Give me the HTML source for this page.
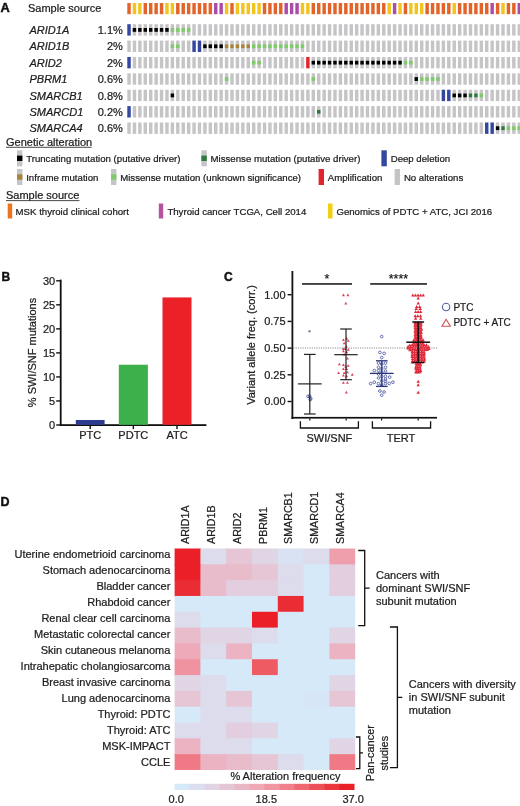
<!DOCTYPE html><html><head><meta charset="utf-8"><title>Figure</title><style>html,body{margin:0;padding:0;background:#fff;width:520px;height:806px;overflow:hidden}</style></head><body><svg width="520" height="806" viewBox="0 0 520 806" style="display:block;font-family:'Liberation Sans',Arial,sans-serif">
<style>text{stroke:#1a1a1a;stroke-width:0.22px}</style>
<rect width="520" height="806" fill="#fff"/>
<text x="0.4" y="11.6" font-size="12.8" font-weight="bold" fill="#111" style="stroke:#111;stroke-width:0.45px">A</text>
<text x="28" y="12.4" font-size="11" fill="#222">Sample source</text>
<rect x="127.30" y="3" width="3.45" height="11.2" fill="#e2642a"/>
<rect x="132.72" y="3" width="3.45" height="11.2" fill="#f2c41f"/>
<rect x="138.14" y="3" width="3.45" height="11.2" fill="#f2c41f"/>
<rect x="143.56" y="3" width="3.45" height="11.2" fill="#e2642a"/>
<rect x="148.98" y="3" width="3.45" height="11.2" fill="#e2642a"/>
<rect x="154.40" y="3" width="3.45" height="11.2" fill="#e2642a"/>
<rect x="159.82" y="3" width="3.45" height="11.2" fill="#e2642a"/>
<rect x="165.24" y="3" width="3.45" height="11.2" fill="#f2c41f"/>
<rect x="170.66" y="3" width="3.45" height="11.2" fill="#f2c41f"/>
<rect x="176.08" y="3" width="3.45" height="11.2" fill="#e2642a"/>
<rect x="181.50" y="3" width="3.45" height="11.2" fill="#e2642a"/>
<rect x="186.92" y="3" width="3.45" height="11.2" fill="#e2642a"/>
<rect x="192.34" y="3" width="3.45" height="11.2" fill="#e2642a"/>
<rect x="197.76" y="3" width="3.45" height="11.2" fill="#e2642a"/>
<rect x="203.18" y="3" width="3.45" height="11.2" fill="#e2642a"/>
<rect x="208.60" y="3" width="3.45" height="11.2" fill="#e2642a"/>
<rect x="214.02" y="3" width="3.45" height="11.2" fill="#aa4caa"/>
<rect x="219.44" y="3" width="3.45" height="11.2" fill="#aa4caa"/>
<rect x="224.86" y="3" width="3.45" height="11.2" fill="#f2c41f"/>
<rect x="230.28" y="3" width="3.45" height="11.2" fill="#e2642a"/>
<rect x="235.70" y="3" width="3.45" height="11.2" fill="#f2c41f"/>
<rect x="241.12" y="3" width="3.45" height="11.2" fill="#f2c41f"/>
<rect x="246.54" y="3" width="3.45" height="11.2" fill="#f2c41f"/>
<rect x="251.96" y="3" width="3.45" height="11.2" fill="#f2c41f"/>
<rect x="257.38" y="3" width="3.45" height="11.2" fill="#f2c41f"/>
<rect x="262.80" y="3" width="3.45" height="11.2" fill="#e2642a"/>
<rect x="268.22" y="3" width="3.45" height="11.2" fill="#e2642a"/>
<rect x="273.64" y="3" width="3.45" height="11.2" fill="#e2642a"/>
<rect x="279.06" y="3" width="3.45" height="11.2" fill="#e2642a"/>
<rect x="284.48" y="3" width="3.45" height="11.2" fill="#aa4caa"/>
<rect x="289.90" y="3" width="3.45" height="11.2" fill="#aa4caa"/>
<rect x="295.32" y="3" width="3.45" height="11.2" fill="#aa4caa"/>
<rect x="300.74" y="3" width="3.45" height="11.2" fill="#f2c41f"/>
<rect x="306.16" y="3" width="3.45" height="11.2" fill="#f2c41f"/>
<rect x="311.58" y="3" width="3.45" height="11.2" fill="#e2642a"/>
<rect x="317.00" y="3" width="3.45" height="11.2" fill="#e2642a"/>
<rect x="322.42" y="3" width="3.45" height="11.2" fill="#e2642a"/>
<rect x="327.84" y="3" width="3.45" height="11.2" fill="#e2642a"/>
<rect x="333.26" y="3" width="3.45" height="11.2" fill="#e2642a"/>
<rect x="338.68" y="3" width="3.45" height="11.2" fill="#e2642a"/>
<rect x="344.10" y="3" width="3.45" height="11.2" fill="#e2642a"/>
<rect x="349.52" y="3" width="3.45" height="11.2" fill="#e2642a"/>
<rect x="354.94" y="3" width="3.45" height="11.2" fill="#e2642a"/>
<rect x="360.36" y="3" width="3.45" height="11.2" fill="#e2642a"/>
<rect x="365.78" y="3" width="3.45" height="11.2" fill="#e2642a"/>
<rect x="371.20" y="3" width="3.45" height="11.2" fill="#e2642a"/>
<rect x="376.62" y="3" width="3.45" height="11.2" fill="#e2642a"/>
<rect x="382.04" y="3" width="3.45" height="11.2" fill="#e2642a"/>
<rect x="387.46" y="3" width="3.45" height="11.2" fill="#f2c41f"/>
<rect x="392.88" y="3" width="3.45" height="11.2" fill="#aa4caa"/>
<rect x="398.30" y="3" width="3.45" height="11.2" fill="#f2c41f"/>
<rect x="403.72" y="3" width="3.45" height="11.2" fill="#e2642a"/>
<rect x="409.14" y="3" width="3.45" height="11.2" fill="#f2c41f"/>
<rect x="414.56" y="3" width="3.45" height="11.2" fill="#f2c41f"/>
<rect x="419.98" y="3" width="3.45" height="11.2" fill="#f2c41f"/>
<rect x="425.40" y="3" width="3.45" height="11.2" fill="#e2642a"/>
<rect x="430.82" y="3" width="3.45" height="11.2" fill="#e2642a"/>
<rect x="436.24" y="3" width="3.45" height="11.2" fill="#e2642a"/>
<rect x="441.66" y="3" width="3.45" height="11.2" fill="#e2642a"/>
<rect x="447.08" y="3" width="3.45" height="11.2" fill="#e2642a"/>
<rect x="452.50" y="3" width="3.45" height="11.2" fill="#f2c41f"/>
<rect x="457.92" y="3" width="3.45" height="11.2" fill="#e2642a"/>
<rect x="463.34" y="3" width="3.45" height="11.2" fill="#e2642a"/>
<rect x="468.76" y="3" width="3.45" height="11.2" fill="#e2642a"/>
<rect x="474.18" y="3" width="3.45" height="11.2" fill="#e2642a"/>
<rect x="479.60" y="3" width="3.45" height="11.2" fill="#e2642a"/>
<rect x="485.02" y="3" width="3.45" height="11.2" fill="#e2642a"/>
<rect x="490.44" y="3" width="3.45" height="11.2" fill="#aa4caa"/>
<rect x="495.86" y="3" width="3.45" height="11.2" fill="#e2642a"/>
<rect x="501.28" y="3" width="3.45" height="11.2" fill="#f2c41f"/>
<rect x="506.70" y="3" width="3.45" height="11.2" fill="#e2642a"/>
<rect x="512.12" y="3" width="3.45" height="11.2" fill="#e2642a"/>
<rect x="517.54" y="3" width="3.45" height="11.2" fill="#aa4caa"/>
<text x="29.5" y="34.10" font-size="11" font-style="italic" fill="#222">ARID1A</text>
<text x="122.8" y="34.10" font-size="11" text-anchor="end" fill="#222">1.1%</text>
<rect x="127.30" y="24.20" width="3.45" height="11.40" fill="#3447a0"/>
<rect x="132.72" y="24.20" width="3.45" height="11.40" fill="#c5c5c7"/>
<rect x="132.72" y="28.00" width="3.45" height="3.80" fill="#000"/>
<rect x="138.14" y="24.20" width="3.45" height="11.40" fill="#c5c5c7"/>
<rect x="138.14" y="28.00" width="3.45" height="3.80" fill="#000"/>
<rect x="143.56" y="24.20" width="3.45" height="11.40" fill="#c5c5c7"/>
<rect x="143.56" y="28.00" width="3.45" height="3.80" fill="#000"/>
<rect x="148.98" y="24.20" width="3.45" height="11.40" fill="#c5c5c7"/>
<rect x="148.98" y="28.00" width="3.45" height="3.80" fill="#000"/>
<rect x="154.40" y="24.20" width="3.45" height="11.40" fill="#c5c5c7"/>
<rect x="154.40" y="28.00" width="3.45" height="3.80" fill="#000"/>
<rect x="159.82" y="24.20" width="3.45" height="11.40" fill="#c5c5c7"/>
<rect x="159.82" y="28.00" width="3.45" height="3.80" fill="#000"/>
<rect x="165.24" y="24.20" width="3.45" height="11.40" fill="#c5c5c7"/>
<rect x="165.24" y="28.00" width="3.45" height="3.80" fill="#000"/>
<rect x="170.66" y="24.20" width="3.45" height="11.40" fill="#c5c5c7"/>
<rect x="170.66" y="28.00" width="3.45" height="3.80" fill="#7fca6a"/>
<rect x="176.08" y="24.20" width="3.45" height="11.40" fill="#c5c5c7"/>
<rect x="176.08" y="28.00" width="3.45" height="3.80" fill="#7fca6a"/>
<rect x="181.50" y="24.20" width="3.45" height="11.40" fill="#c5c5c7"/>
<rect x="181.50" y="28.00" width="3.45" height="3.80" fill="#7fca6a"/>
<rect x="186.92" y="24.20" width="3.45" height="11.40" fill="#c5c5c7"/>
<rect x="186.92" y="28.00" width="3.45" height="3.80" fill="#7fca6a"/>
<rect x="192.34" y="24.20" width="3.45" height="11.40" fill="#c5c5c7"/>
<rect x="197.76" y="24.20" width="3.45" height="11.40" fill="#c5c5c7"/>
<rect x="203.18" y="24.20" width="3.45" height="11.40" fill="#c5c5c7"/>
<rect x="208.60" y="24.20" width="3.45" height="11.40" fill="#c5c5c7"/>
<rect x="214.02" y="24.20" width="3.45" height="11.40" fill="#c5c5c7"/>
<rect x="219.44" y="24.20" width="3.45" height="11.40" fill="#c5c5c7"/>
<rect x="224.86" y="24.20" width="3.45" height="11.40" fill="#c5c5c7"/>
<rect x="230.28" y="24.20" width="3.45" height="11.40" fill="#c5c5c7"/>
<rect x="235.70" y="24.20" width="3.45" height="11.40" fill="#c5c5c7"/>
<rect x="241.12" y="24.20" width="3.45" height="11.40" fill="#c5c5c7"/>
<rect x="246.54" y="24.20" width="3.45" height="11.40" fill="#c5c5c7"/>
<rect x="251.96" y="24.20" width="3.45" height="11.40" fill="#c5c5c7"/>
<rect x="257.38" y="24.20" width="3.45" height="11.40" fill="#c5c5c7"/>
<rect x="262.80" y="24.20" width="3.45" height="11.40" fill="#c5c5c7"/>
<rect x="268.22" y="24.20" width="3.45" height="11.40" fill="#c5c5c7"/>
<rect x="273.64" y="24.20" width="3.45" height="11.40" fill="#c5c5c7"/>
<rect x="279.06" y="24.20" width="3.45" height="11.40" fill="#c5c5c7"/>
<rect x="284.48" y="24.20" width="3.45" height="11.40" fill="#c5c5c7"/>
<rect x="289.90" y="24.20" width="3.45" height="11.40" fill="#c5c5c7"/>
<rect x="295.32" y="24.20" width="3.45" height="11.40" fill="#c5c5c7"/>
<rect x="300.74" y="24.20" width="3.45" height="11.40" fill="#c5c5c7"/>
<rect x="306.16" y="24.20" width="3.45" height="11.40" fill="#c5c5c7"/>
<rect x="311.58" y="24.20" width="3.45" height="11.40" fill="#c5c5c7"/>
<rect x="317.00" y="24.20" width="3.45" height="11.40" fill="#c5c5c7"/>
<rect x="322.42" y="24.20" width="3.45" height="11.40" fill="#c5c5c7"/>
<rect x="327.84" y="24.20" width="3.45" height="11.40" fill="#c5c5c7"/>
<rect x="333.26" y="24.20" width="3.45" height="11.40" fill="#c5c5c7"/>
<rect x="338.68" y="24.20" width="3.45" height="11.40" fill="#c5c5c7"/>
<rect x="344.10" y="24.20" width="3.45" height="11.40" fill="#c5c5c7"/>
<rect x="349.52" y="24.20" width="3.45" height="11.40" fill="#c5c5c7"/>
<rect x="354.94" y="24.20" width="3.45" height="11.40" fill="#c5c5c7"/>
<rect x="360.36" y="24.20" width="3.45" height="11.40" fill="#c5c5c7"/>
<rect x="365.78" y="24.20" width="3.45" height="11.40" fill="#c5c5c7"/>
<rect x="371.20" y="24.20" width="3.45" height="11.40" fill="#c5c5c7"/>
<rect x="376.62" y="24.20" width="3.45" height="11.40" fill="#c5c5c7"/>
<rect x="382.04" y="24.20" width="3.45" height="11.40" fill="#c5c5c7"/>
<rect x="387.46" y="24.20" width="3.45" height="11.40" fill="#c5c5c7"/>
<rect x="392.88" y="24.20" width="3.45" height="11.40" fill="#c5c5c7"/>
<rect x="398.30" y="24.20" width="3.45" height="11.40" fill="#c5c5c7"/>
<rect x="403.72" y="24.20" width="3.45" height="11.40" fill="#c5c5c7"/>
<rect x="409.14" y="24.20" width="3.45" height="11.40" fill="#c5c5c7"/>
<rect x="414.56" y="24.20" width="3.45" height="11.40" fill="#c5c5c7"/>
<rect x="419.98" y="24.20" width="3.45" height="11.40" fill="#c5c5c7"/>
<rect x="425.40" y="24.20" width="3.45" height="11.40" fill="#c5c5c7"/>
<rect x="430.82" y="24.20" width="3.45" height="11.40" fill="#c5c5c7"/>
<rect x="436.24" y="24.20" width="3.45" height="11.40" fill="#c5c5c7"/>
<rect x="441.66" y="24.20" width="3.45" height="11.40" fill="#c5c5c7"/>
<rect x="447.08" y="24.20" width="3.45" height="11.40" fill="#c5c5c7"/>
<rect x="452.50" y="24.20" width="3.45" height="11.40" fill="#c5c5c7"/>
<rect x="457.92" y="24.20" width="3.45" height="11.40" fill="#c5c5c7"/>
<rect x="463.34" y="24.20" width="3.45" height="11.40" fill="#c5c5c7"/>
<rect x="468.76" y="24.20" width="3.45" height="11.40" fill="#c5c5c7"/>
<rect x="474.18" y="24.20" width="3.45" height="11.40" fill="#c5c5c7"/>
<rect x="479.60" y="24.20" width="3.45" height="11.40" fill="#c5c5c7"/>
<rect x="485.02" y="24.20" width="3.45" height="11.40" fill="#c5c5c7"/>
<rect x="490.44" y="24.20" width="3.45" height="11.40" fill="#c5c5c7"/>
<rect x="495.86" y="24.20" width="3.45" height="11.40" fill="#c5c5c7"/>
<rect x="501.28" y="24.20" width="3.45" height="11.40" fill="#c5c5c7"/>
<rect x="506.70" y="24.20" width="3.45" height="11.40" fill="#c5c5c7"/>
<rect x="512.12" y="24.20" width="3.45" height="11.40" fill="#c5c5c7"/>
<rect x="517.54" y="24.20" width="3.45" height="11.40" fill="#c5c5c7"/>
<text x="29.5" y="50.48" font-size="11" font-style="italic" fill="#222">ARID1B</text>
<text x="122.8" y="50.48" font-size="11" text-anchor="end" fill="#222">2%</text>
<rect x="127.30" y="40.58" width="3.45" height="11.40" fill="#c5c5c7"/>
<rect x="132.72" y="40.58" width="3.45" height="11.40" fill="#c5c5c7"/>
<rect x="138.14" y="40.58" width="3.45" height="11.40" fill="#c5c5c7"/>
<rect x="143.56" y="40.58" width="3.45" height="11.40" fill="#c5c5c7"/>
<rect x="148.98" y="40.58" width="3.45" height="11.40" fill="#c5c5c7"/>
<rect x="154.40" y="40.58" width="3.45" height="11.40" fill="#c5c5c7"/>
<rect x="159.82" y="40.58" width="3.45" height="11.40" fill="#c5c5c7"/>
<rect x="165.24" y="40.58" width="3.45" height="11.40" fill="#c5c5c7"/>
<rect x="170.66" y="40.58" width="3.45" height="11.40" fill="#c5c5c7"/>
<rect x="170.66" y="44.38" width="3.45" height="3.80" fill="#7fca6a"/>
<rect x="176.08" y="40.58" width="3.45" height="11.40" fill="#c5c5c7"/>
<rect x="176.08" y="44.38" width="3.45" height="3.80" fill="#7fca6a"/>
<rect x="181.50" y="40.58" width="3.45" height="11.40" fill="#c5c5c7"/>
<rect x="186.92" y="40.58" width="3.45" height="11.40" fill="#c5c5c7"/>
<rect x="192.34" y="40.58" width="3.45" height="11.40" fill="#3447a0"/>
<rect x="197.76" y="40.58" width="3.45" height="11.40" fill="#3447a0"/>
<rect x="203.18" y="40.58" width="3.45" height="11.40" fill="#c5c5c7"/>
<rect x="203.18" y="44.38" width="3.45" height="3.80" fill="#000"/>
<rect x="208.60" y="40.58" width="3.45" height="11.40" fill="#c5c5c7"/>
<rect x="208.60" y="44.38" width="3.45" height="3.80" fill="#000"/>
<rect x="214.02" y="40.58" width="3.45" height="11.40" fill="#c5c5c7"/>
<rect x="214.02" y="44.38" width="3.45" height="3.80" fill="#000"/>
<rect x="219.44" y="40.58" width="3.45" height="11.40" fill="#c5c5c7"/>
<rect x="219.44" y="44.38" width="3.45" height="3.80" fill="#000"/>
<rect x="224.86" y="40.58" width="3.45" height="11.40" fill="#c5c5c7"/>
<rect x="224.86" y="44.38" width="3.45" height="3.80" fill="#a8843c"/>
<rect x="230.28" y="40.58" width="3.45" height="11.40" fill="#c5c5c7"/>
<rect x="230.28" y="44.38" width="3.45" height="3.80" fill="#a8843c"/>
<rect x="235.70" y="40.58" width="3.45" height="11.40" fill="#c5c5c7"/>
<rect x="235.70" y="44.38" width="3.45" height="3.80" fill="#a8843c"/>
<rect x="241.12" y="40.58" width="3.45" height="11.40" fill="#c5c5c7"/>
<rect x="241.12" y="44.38" width="3.45" height="3.80" fill="#a8843c"/>
<rect x="246.54" y="40.58" width="3.45" height="11.40" fill="#c5c5c7"/>
<rect x="246.54" y="44.38" width="3.45" height="3.80" fill="#a8843c"/>
<rect x="251.96" y="40.58" width="3.45" height="11.40" fill="#c5c5c7"/>
<rect x="251.96" y="44.38" width="3.45" height="3.80" fill="#7fca6a"/>
<rect x="257.38" y="40.58" width="3.45" height="11.40" fill="#c5c5c7"/>
<rect x="257.38" y="44.38" width="3.45" height="3.80" fill="#7fca6a"/>
<rect x="262.80" y="40.58" width="3.45" height="11.40" fill="#c5c5c7"/>
<rect x="262.80" y="44.38" width="3.45" height="3.80" fill="#7fca6a"/>
<rect x="268.22" y="40.58" width="3.45" height="11.40" fill="#c5c5c7"/>
<rect x="268.22" y="44.38" width="3.45" height="3.80" fill="#7fca6a"/>
<rect x="273.64" y="40.58" width="3.45" height="11.40" fill="#c5c5c7"/>
<rect x="273.64" y="44.38" width="3.45" height="3.80" fill="#7fca6a"/>
<rect x="279.06" y="40.58" width="3.45" height="11.40" fill="#c5c5c7"/>
<rect x="279.06" y="44.38" width="3.45" height="3.80" fill="#7fca6a"/>
<rect x="284.48" y="40.58" width="3.45" height="11.40" fill="#c5c5c7"/>
<rect x="284.48" y="44.38" width="3.45" height="3.80" fill="#7fca6a"/>
<rect x="289.90" y="40.58" width="3.45" height="11.40" fill="#c5c5c7"/>
<rect x="289.90" y="44.38" width="3.45" height="3.80" fill="#7fca6a"/>
<rect x="295.32" y="40.58" width="3.45" height="11.40" fill="#c5c5c7"/>
<rect x="295.32" y="44.38" width="3.45" height="3.80" fill="#7fca6a"/>
<rect x="300.74" y="40.58" width="3.45" height="11.40" fill="#c5c5c7"/>
<rect x="300.74" y="44.38" width="3.45" height="3.80" fill="#7fca6a"/>
<rect x="306.16" y="40.58" width="3.45" height="11.40" fill="#c5c5c7"/>
<rect x="311.58" y="40.58" width="3.45" height="11.40" fill="#c5c5c7"/>
<rect x="317.00" y="40.58" width="3.45" height="11.40" fill="#c5c5c7"/>
<rect x="322.42" y="40.58" width="3.45" height="11.40" fill="#c5c5c7"/>
<rect x="327.84" y="40.58" width="3.45" height="11.40" fill="#c5c5c7"/>
<rect x="333.26" y="40.58" width="3.45" height="11.40" fill="#c5c5c7"/>
<rect x="338.68" y="40.58" width="3.45" height="11.40" fill="#c5c5c7"/>
<rect x="344.10" y="40.58" width="3.45" height="11.40" fill="#c5c5c7"/>
<rect x="349.52" y="40.58" width="3.45" height="11.40" fill="#c5c5c7"/>
<rect x="354.94" y="40.58" width="3.45" height="11.40" fill="#c5c5c7"/>
<rect x="360.36" y="40.58" width="3.45" height="11.40" fill="#c5c5c7"/>
<rect x="365.78" y="40.58" width="3.45" height="11.40" fill="#c5c5c7"/>
<rect x="371.20" y="40.58" width="3.45" height="11.40" fill="#c5c5c7"/>
<rect x="376.62" y="40.58" width="3.45" height="11.40" fill="#c5c5c7"/>
<rect x="382.04" y="40.58" width="3.45" height="11.40" fill="#c5c5c7"/>
<rect x="387.46" y="40.58" width="3.45" height="11.40" fill="#c5c5c7"/>
<rect x="392.88" y="40.58" width="3.45" height="11.40" fill="#c5c5c7"/>
<rect x="398.30" y="40.58" width="3.45" height="11.40" fill="#c5c5c7"/>
<rect x="403.72" y="40.58" width="3.45" height="11.40" fill="#c5c5c7"/>
<rect x="409.14" y="40.58" width="3.45" height="11.40" fill="#c5c5c7"/>
<rect x="414.56" y="40.58" width="3.45" height="11.40" fill="#c5c5c7"/>
<rect x="419.98" y="40.58" width="3.45" height="11.40" fill="#c5c5c7"/>
<rect x="425.40" y="40.58" width="3.45" height="11.40" fill="#c5c5c7"/>
<rect x="430.82" y="40.58" width="3.45" height="11.40" fill="#c5c5c7"/>
<rect x="436.24" y="40.58" width="3.45" height="11.40" fill="#c5c5c7"/>
<rect x="441.66" y="40.58" width="3.45" height="11.40" fill="#c5c5c7"/>
<rect x="447.08" y="40.58" width="3.45" height="11.40" fill="#c5c5c7"/>
<rect x="452.50" y="40.58" width="3.45" height="11.40" fill="#c5c5c7"/>
<rect x="457.92" y="40.58" width="3.45" height="11.40" fill="#c5c5c7"/>
<rect x="463.34" y="40.58" width="3.45" height="11.40" fill="#c5c5c7"/>
<rect x="468.76" y="40.58" width="3.45" height="11.40" fill="#c5c5c7"/>
<rect x="474.18" y="40.58" width="3.45" height="11.40" fill="#c5c5c7"/>
<rect x="479.60" y="40.58" width="3.45" height="11.40" fill="#c5c5c7"/>
<rect x="485.02" y="40.58" width="3.45" height="11.40" fill="#c5c5c7"/>
<rect x="490.44" y="40.58" width="3.45" height="11.40" fill="#c5c5c7"/>
<rect x="495.86" y="40.58" width="3.45" height="11.40" fill="#c5c5c7"/>
<rect x="501.28" y="40.58" width="3.45" height="11.40" fill="#c5c5c7"/>
<rect x="506.70" y="40.58" width="3.45" height="11.40" fill="#c5c5c7"/>
<rect x="512.12" y="40.58" width="3.45" height="11.40" fill="#c5c5c7"/>
<rect x="517.54" y="40.58" width="3.45" height="11.40" fill="#c5c5c7"/>
<text x="29.5" y="66.86" font-size="11" font-style="italic" fill="#222">ARID2</text>
<text x="122.8" y="66.86" font-size="11" text-anchor="end" fill="#222">2%</text>
<rect x="127.30" y="56.96" width="3.45" height="11.40" fill="#3447a0"/>
<rect x="132.72" y="56.96" width="3.45" height="11.40" fill="#c5c5c7"/>
<rect x="138.14" y="56.96" width="3.45" height="11.40" fill="#c5c5c7"/>
<rect x="143.56" y="56.96" width="3.45" height="11.40" fill="#c5c5c7"/>
<rect x="148.98" y="56.96" width="3.45" height="11.40" fill="#c5c5c7"/>
<rect x="154.40" y="56.96" width="3.45" height="11.40" fill="#c5c5c7"/>
<rect x="159.82" y="56.96" width="3.45" height="11.40" fill="#c5c5c7"/>
<rect x="165.24" y="56.96" width="3.45" height="11.40" fill="#c5c5c7"/>
<rect x="170.66" y="56.96" width="3.45" height="11.40" fill="#c5c5c7"/>
<rect x="176.08" y="56.96" width="3.45" height="11.40" fill="#c5c5c7"/>
<rect x="181.50" y="56.96" width="3.45" height="11.40" fill="#c5c5c7"/>
<rect x="186.92" y="56.96" width="3.45" height="11.40" fill="#c5c5c7"/>
<rect x="192.34" y="56.96" width="3.45" height="11.40" fill="#c5c5c7"/>
<rect x="197.76" y="56.96" width="3.45" height="11.40" fill="#c5c5c7"/>
<rect x="203.18" y="56.96" width="3.45" height="11.40" fill="#c5c5c7"/>
<rect x="208.60" y="56.96" width="3.45" height="11.40" fill="#c5c5c7"/>
<rect x="214.02" y="56.96" width="3.45" height="11.40" fill="#c5c5c7"/>
<rect x="219.44" y="56.96" width="3.45" height="11.40" fill="#c5c5c7"/>
<rect x="224.86" y="56.96" width="3.45" height="11.40" fill="#c5c5c7"/>
<rect x="230.28" y="56.96" width="3.45" height="11.40" fill="#c5c5c7"/>
<rect x="235.70" y="56.96" width="3.45" height="11.40" fill="#c5c5c7"/>
<rect x="241.12" y="56.96" width="3.45" height="11.40" fill="#c5c5c7"/>
<rect x="246.54" y="56.96" width="3.45" height="11.40" fill="#c5c5c7"/>
<rect x="251.96" y="56.96" width="3.45" height="11.40" fill="#c5c5c7"/>
<rect x="251.96" y="60.76" width="3.45" height="3.80" fill="#7fca6a"/>
<rect x="257.38" y="56.96" width="3.45" height="11.40" fill="#c5c5c7"/>
<rect x="257.38" y="60.76" width="3.45" height="3.80" fill="#7fca6a"/>
<rect x="262.80" y="56.96" width="3.45" height="11.40" fill="#c5c5c7"/>
<rect x="268.22" y="56.96" width="3.45" height="11.40" fill="#c5c5c7"/>
<rect x="273.64" y="56.96" width="3.45" height="11.40" fill="#c5c5c7"/>
<rect x="279.06" y="56.96" width="3.45" height="11.40" fill="#c5c5c7"/>
<rect x="284.48" y="56.96" width="3.45" height="11.40" fill="#c5c5c7"/>
<rect x="289.90" y="56.96" width="3.45" height="11.40" fill="#c5c5c7"/>
<rect x="295.32" y="56.96" width="3.45" height="11.40" fill="#c5c5c7"/>
<rect x="300.74" y="56.96" width="3.45" height="11.40" fill="#c5c5c7"/>
<rect x="306.16" y="56.96" width="3.45" height="11.40" fill="#e2242c"/>
<rect x="311.58" y="56.96" width="3.45" height="11.40" fill="#c5c5c7"/>
<rect x="311.58" y="60.76" width="3.45" height="3.80" fill="#000"/>
<rect x="317.00" y="56.96" width="3.45" height="11.40" fill="#c5c5c7"/>
<rect x="317.00" y="60.76" width="3.45" height="3.80" fill="#000"/>
<rect x="322.42" y="56.96" width="3.45" height="11.40" fill="#c5c5c7"/>
<rect x="322.42" y="60.76" width="3.45" height="3.80" fill="#000"/>
<rect x="327.84" y="56.96" width="3.45" height="11.40" fill="#c5c5c7"/>
<rect x="327.84" y="60.76" width="3.45" height="3.80" fill="#000"/>
<rect x="333.26" y="56.96" width="3.45" height="11.40" fill="#c5c5c7"/>
<rect x="333.26" y="60.76" width="3.45" height="3.80" fill="#000"/>
<rect x="338.68" y="56.96" width="3.45" height="11.40" fill="#c5c5c7"/>
<rect x="338.68" y="60.76" width="3.45" height="3.80" fill="#000"/>
<rect x="344.10" y="56.96" width="3.45" height="11.40" fill="#c5c5c7"/>
<rect x="344.10" y="60.76" width="3.45" height="3.80" fill="#000"/>
<rect x="349.52" y="56.96" width="3.45" height="11.40" fill="#c5c5c7"/>
<rect x="349.52" y="60.76" width="3.45" height="3.80" fill="#000"/>
<rect x="354.94" y="56.96" width="3.45" height="11.40" fill="#c5c5c7"/>
<rect x="354.94" y="60.76" width="3.45" height="3.80" fill="#000"/>
<rect x="360.36" y="56.96" width="3.45" height="11.40" fill="#c5c5c7"/>
<rect x="360.36" y="60.76" width="3.45" height="3.80" fill="#000"/>
<rect x="365.78" y="56.96" width="3.45" height="11.40" fill="#c5c5c7"/>
<rect x="365.78" y="60.76" width="3.45" height="3.80" fill="#000"/>
<rect x="371.20" y="56.96" width="3.45" height="11.40" fill="#c5c5c7"/>
<rect x="371.20" y="60.76" width="3.45" height="3.80" fill="#000"/>
<rect x="376.62" y="56.96" width="3.45" height="11.40" fill="#c5c5c7"/>
<rect x="376.62" y="60.76" width="3.45" height="3.80" fill="#000"/>
<rect x="382.04" y="56.96" width="3.45" height="11.40" fill="#c5c5c7"/>
<rect x="382.04" y="60.76" width="3.45" height="3.80" fill="#000"/>
<rect x="387.46" y="56.96" width="3.45" height="11.40" fill="#c5c5c7"/>
<rect x="387.46" y="60.76" width="3.45" height="3.80" fill="#000"/>
<rect x="392.88" y="56.96" width="3.45" height="11.40" fill="#c5c5c7"/>
<rect x="392.88" y="60.76" width="3.45" height="3.80" fill="#000"/>
<rect x="398.30" y="56.96" width="3.45" height="11.40" fill="#c5c5c7"/>
<rect x="398.30" y="60.76" width="3.45" height="3.80" fill="#000"/>
<rect x="403.72" y="56.96" width="3.45" height="11.40" fill="#c5c5c7"/>
<rect x="403.72" y="60.76" width="3.45" height="3.80" fill="#7fca6a"/>
<rect x="409.14" y="56.96" width="3.45" height="11.40" fill="#c5c5c7"/>
<rect x="409.14" y="60.76" width="3.45" height="3.80" fill="#7fca6a"/>
<rect x="414.56" y="56.96" width="3.45" height="11.40" fill="#c5c5c7"/>
<rect x="419.98" y="56.96" width="3.45" height="11.40" fill="#c5c5c7"/>
<rect x="425.40" y="56.96" width="3.45" height="11.40" fill="#c5c5c7"/>
<rect x="430.82" y="56.96" width="3.45" height="11.40" fill="#c5c5c7"/>
<rect x="436.24" y="56.96" width="3.45" height="11.40" fill="#c5c5c7"/>
<rect x="441.66" y="56.96" width="3.45" height="11.40" fill="#c5c5c7"/>
<rect x="447.08" y="56.96" width="3.45" height="11.40" fill="#c5c5c7"/>
<rect x="452.50" y="56.96" width="3.45" height="11.40" fill="#c5c5c7"/>
<rect x="457.92" y="56.96" width="3.45" height="11.40" fill="#c5c5c7"/>
<rect x="463.34" y="56.96" width="3.45" height="11.40" fill="#c5c5c7"/>
<rect x="468.76" y="56.96" width="3.45" height="11.40" fill="#c5c5c7"/>
<rect x="474.18" y="56.96" width="3.45" height="11.40" fill="#c5c5c7"/>
<rect x="479.60" y="56.96" width="3.45" height="11.40" fill="#c5c5c7"/>
<rect x="485.02" y="56.96" width="3.45" height="11.40" fill="#c5c5c7"/>
<rect x="490.44" y="56.96" width="3.45" height="11.40" fill="#c5c5c7"/>
<rect x="495.86" y="56.96" width="3.45" height="11.40" fill="#c5c5c7"/>
<rect x="501.28" y="56.96" width="3.45" height="11.40" fill="#c5c5c7"/>
<rect x="506.70" y="56.96" width="3.45" height="11.40" fill="#c5c5c7"/>
<rect x="512.12" y="56.96" width="3.45" height="11.40" fill="#c5c5c7"/>
<rect x="517.54" y="56.96" width="3.45" height="11.40" fill="#c5c5c7"/>
<text x="29.5" y="83.24" font-size="11" font-style="italic" fill="#222">PBRM1</text>
<text x="122.8" y="83.24" font-size="11" text-anchor="end" fill="#222">0.6%</text>
<rect x="127.30" y="73.34" width="3.45" height="11.40" fill="#c5c5c7"/>
<rect x="132.72" y="73.34" width="3.45" height="11.40" fill="#c5c5c7"/>
<rect x="138.14" y="73.34" width="3.45" height="11.40" fill="#c5c5c7"/>
<rect x="143.56" y="73.34" width="3.45" height="11.40" fill="#c5c5c7"/>
<rect x="148.98" y="73.34" width="3.45" height="11.40" fill="#c5c5c7"/>
<rect x="154.40" y="73.34" width="3.45" height="11.40" fill="#c5c5c7"/>
<rect x="159.82" y="73.34" width="3.45" height="11.40" fill="#c5c5c7"/>
<rect x="165.24" y="73.34" width="3.45" height="11.40" fill="#c5c5c7"/>
<rect x="170.66" y="73.34" width="3.45" height="11.40" fill="#c5c5c7"/>
<rect x="176.08" y="73.34" width="3.45" height="11.40" fill="#c5c5c7"/>
<rect x="181.50" y="73.34" width="3.45" height="11.40" fill="#c5c5c7"/>
<rect x="186.92" y="73.34" width="3.45" height="11.40" fill="#c5c5c7"/>
<rect x="192.34" y="73.34" width="3.45" height="11.40" fill="#c5c5c7"/>
<rect x="197.76" y="73.34" width="3.45" height="11.40" fill="#c5c5c7"/>
<rect x="203.18" y="73.34" width="3.45" height="11.40" fill="#c5c5c7"/>
<rect x="208.60" y="73.34" width="3.45" height="11.40" fill="#c5c5c7"/>
<rect x="214.02" y="73.34" width="3.45" height="11.40" fill="#c5c5c7"/>
<rect x="219.44" y="73.34" width="3.45" height="11.40" fill="#c5c5c7"/>
<rect x="224.86" y="73.34" width="3.45" height="11.40" fill="#c5c5c7"/>
<rect x="224.86" y="77.14" width="3.45" height="3.80" fill="#7fca6a"/>
<rect x="230.28" y="73.34" width="3.45" height="11.40" fill="#c5c5c7"/>
<rect x="235.70" y="73.34" width="3.45" height="11.40" fill="#c5c5c7"/>
<rect x="241.12" y="73.34" width="3.45" height="11.40" fill="#c5c5c7"/>
<rect x="246.54" y="73.34" width="3.45" height="11.40" fill="#c5c5c7"/>
<rect x="251.96" y="73.34" width="3.45" height="11.40" fill="#c5c5c7"/>
<rect x="257.38" y="73.34" width="3.45" height="11.40" fill="#c5c5c7"/>
<rect x="262.80" y="73.34" width="3.45" height="11.40" fill="#c5c5c7"/>
<rect x="268.22" y="73.34" width="3.45" height="11.40" fill="#c5c5c7"/>
<rect x="273.64" y="73.34" width="3.45" height="11.40" fill="#c5c5c7"/>
<rect x="279.06" y="73.34" width="3.45" height="11.40" fill="#c5c5c7"/>
<rect x="284.48" y="73.34" width="3.45" height="11.40" fill="#c5c5c7"/>
<rect x="289.90" y="73.34" width="3.45" height="11.40" fill="#c5c5c7"/>
<rect x="295.32" y="73.34" width="3.45" height="11.40" fill="#c5c5c7"/>
<rect x="300.74" y="73.34" width="3.45" height="11.40" fill="#c5c5c7"/>
<rect x="306.16" y="73.34" width="3.45" height="11.40" fill="#c5c5c7"/>
<rect x="311.58" y="73.34" width="3.45" height="11.40" fill="#c5c5c7"/>
<rect x="311.58" y="77.14" width="3.45" height="3.80" fill="#7fca6a"/>
<rect x="317.00" y="73.34" width="3.45" height="11.40" fill="#c5c5c7"/>
<rect x="322.42" y="73.34" width="3.45" height="11.40" fill="#c5c5c7"/>
<rect x="327.84" y="73.34" width="3.45" height="11.40" fill="#c5c5c7"/>
<rect x="333.26" y="73.34" width="3.45" height="11.40" fill="#c5c5c7"/>
<rect x="338.68" y="73.34" width="3.45" height="11.40" fill="#c5c5c7"/>
<rect x="344.10" y="73.34" width="3.45" height="11.40" fill="#c5c5c7"/>
<rect x="349.52" y="73.34" width="3.45" height="11.40" fill="#c5c5c7"/>
<rect x="354.94" y="73.34" width="3.45" height="11.40" fill="#c5c5c7"/>
<rect x="360.36" y="73.34" width="3.45" height="11.40" fill="#c5c5c7"/>
<rect x="365.78" y="73.34" width="3.45" height="11.40" fill="#c5c5c7"/>
<rect x="371.20" y="73.34" width="3.45" height="11.40" fill="#c5c5c7"/>
<rect x="376.62" y="73.34" width="3.45" height="11.40" fill="#c5c5c7"/>
<rect x="382.04" y="73.34" width="3.45" height="11.40" fill="#c5c5c7"/>
<rect x="387.46" y="73.34" width="3.45" height="11.40" fill="#c5c5c7"/>
<rect x="392.88" y="73.34" width="3.45" height="11.40" fill="#c5c5c7"/>
<rect x="398.30" y="73.34" width="3.45" height="11.40" fill="#c5c5c7"/>
<rect x="403.72" y="73.34" width="3.45" height="11.40" fill="#c5c5c7"/>
<rect x="409.14" y="73.34" width="3.45" height="11.40" fill="#c5c5c7"/>
<rect x="414.56" y="73.34" width="3.45" height="11.40" fill="#c5c5c7"/>
<rect x="414.56" y="77.14" width="3.45" height="3.80" fill="#000"/>
<rect x="419.98" y="73.34" width="3.45" height="11.40" fill="#c5c5c7"/>
<rect x="419.98" y="77.14" width="3.45" height="3.80" fill="#7fca6a"/>
<rect x="425.40" y="73.34" width="3.45" height="11.40" fill="#c5c5c7"/>
<rect x="425.40" y="77.14" width="3.45" height="3.80" fill="#7fca6a"/>
<rect x="430.82" y="73.34" width="3.45" height="11.40" fill="#c5c5c7"/>
<rect x="430.82" y="77.14" width="3.45" height="3.80" fill="#7fca6a"/>
<rect x="436.24" y="73.34" width="3.45" height="11.40" fill="#c5c5c7"/>
<rect x="436.24" y="77.14" width="3.45" height="3.80" fill="#7fca6a"/>
<rect x="441.66" y="73.34" width="3.45" height="11.40" fill="#c5c5c7"/>
<rect x="447.08" y="73.34" width="3.45" height="11.40" fill="#c5c5c7"/>
<rect x="452.50" y="73.34" width="3.45" height="11.40" fill="#c5c5c7"/>
<rect x="457.92" y="73.34" width="3.45" height="11.40" fill="#c5c5c7"/>
<rect x="463.34" y="73.34" width="3.45" height="11.40" fill="#c5c5c7"/>
<rect x="468.76" y="73.34" width="3.45" height="11.40" fill="#c5c5c7"/>
<rect x="474.18" y="73.34" width="3.45" height="11.40" fill="#c5c5c7"/>
<rect x="479.60" y="73.34" width="3.45" height="11.40" fill="#c5c5c7"/>
<rect x="485.02" y="73.34" width="3.45" height="11.40" fill="#c5c5c7"/>
<rect x="490.44" y="73.34" width="3.45" height="11.40" fill="#c5c5c7"/>
<rect x="495.86" y="73.34" width="3.45" height="11.40" fill="#c5c5c7"/>
<rect x="501.28" y="73.34" width="3.45" height="11.40" fill="#c5c5c7"/>
<rect x="506.70" y="73.34" width="3.45" height="11.40" fill="#c5c5c7"/>
<rect x="512.12" y="73.34" width="3.45" height="11.40" fill="#c5c5c7"/>
<rect x="517.54" y="73.34" width="3.45" height="11.40" fill="#c5c5c7"/>
<text x="29.5" y="99.62" font-size="11" font-style="italic" fill="#222">SMARCB1</text>
<text x="122.8" y="99.62" font-size="11" text-anchor="end" fill="#222">0.8%</text>
<rect x="127.30" y="89.72" width="3.45" height="11.40" fill="#c5c5c7"/>
<rect x="132.72" y="89.72" width="3.45" height="11.40" fill="#c5c5c7"/>
<rect x="138.14" y="89.72" width="3.45" height="11.40" fill="#c5c5c7"/>
<rect x="143.56" y="89.72" width="3.45" height="11.40" fill="#c5c5c7"/>
<rect x="148.98" y="89.72" width="3.45" height="11.40" fill="#c5c5c7"/>
<rect x="154.40" y="89.72" width="3.45" height="11.40" fill="#c5c5c7"/>
<rect x="159.82" y="89.72" width="3.45" height="11.40" fill="#c5c5c7"/>
<rect x="165.24" y="89.72" width="3.45" height="11.40" fill="#c5c5c7"/>
<rect x="170.66" y="89.72" width="3.45" height="11.40" fill="#c5c5c7"/>
<rect x="170.66" y="93.52" width="3.45" height="3.80" fill="#000"/>
<rect x="176.08" y="89.72" width="3.45" height="11.40" fill="#c5c5c7"/>
<rect x="181.50" y="89.72" width="3.45" height="11.40" fill="#c5c5c7"/>
<rect x="186.92" y="89.72" width="3.45" height="11.40" fill="#c5c5c7"/>
<rect x="192.34" y="89.72" width="3.45" height="11.40" fill="#c5c5c7"/>
<rect x="197.76" y="89.72" width="3.45" height="11.40" fill="#c5c5c7"/>
<rect x="203.18" y="89.72" width="3.45" height="11.40" fill="#c5c5c7"/>
<rect x="208.60" y="89.72" width="3.45" height="11.40" fill="#c5c5c7"/>
<rect x="214.02" y="89.72" width="3.45" height="11.40" fill="#c5c5c7"/>
<rect x="219.44" y="89.72" width="3.45" height="11.40" fill="#c5c5c7"/>
<rect x="224.86" y="89.72" width="3.45" height="11.40" fill="#c5c5c7"/>
<rect x="230.28" y="89.72" width="3.45" height="11.40" fill="#c5c5c7"/>
<rect x="235.70" y="89.72" width="3.45" height="11.40" fill="#c5c5c7"/>
<rect x="241.12" y="89.72" width="3.45" height="11.40" fill="#c5c5c7"/>
<rect x="246.54" y="89.72" width="3.45" height="11.40" fill="#c5c5c7"/>
<rect x="251.96" y="89.72" width="3.45" height="11.40" fill="#c5c5c7"/>
<rect x="257.38" y="89.72" width="3.45" height="11.40" fill="#c5c5c7"/>
<rect x="262.80" y="89.72" width="3.45" height="11.40" fill="#c5c5c7"/>
<rect x="268.22" y="89.72" width="3.45" height="11.40" fill="#c5c5c7"/>
<rect x="273.64" y="89.72" width="3.45" height="11.40" fill="#c5c5c7"/>
<rect x="279.06" y="89.72" width="3.45" height="11.40" fill="#c5c5c7"/>
<rect x="284.48" y="89.72" width="3.45" height="11.40" fill="#c5c5c7"/>
<rect x="289.90" y="89.72" width="3.45" height="11.40" fill="#c5c5c7"/>
<rect x="295.32" y="89.72" width="3.45" height="11.40" fill="#c5c5c7"/>
<rect x="300.74" y="89.72" width="3.45" height="11.40" fill="#c5c5c7"/>
<rect x="306.16" y="89.72" width="3.45" height="11.40" fill="#c5c5c7"/>
<rect x="311.58" y="89.72" width="3.45" height="11.40" fill="#c5c5c7"/>
<rect x="317.00" y="89.72" width="3.45" height="11.40" fill="#c5c5c7"/>
<rect x="322.42" y="89.72" width="3.45" height="11.40" fill="#c5c5c7"/>
<rect x="327.84" y="89.72" width="3.45" height="11.40" fill="#c5c5c7"/>
<rect x="333.26" y="89.72" width="3.45" height="11.40" fill="#c5c5c7"/>
<rect x="338.68" y="89.72" width="3.45" height="11.40" fill="#c5c5c7"/>
<rect x="344.10" y="89.72" width="3.45" height="11.40" fill="#c5c5c7"/>
<rect x="349.52" y="89.72" width="3.45" height="11.40" fill="#c5c5c7"/>
<rect x="354.94" y="89.72" width="3.45" height="11.40" fill="#c5c5c7"/>
<rect x="360.36" y="89.72" width="3.45" height="11.40" fill="#c5c5c7"/>
<rect x="365.78" y="89.72" width="3.45" height="11.40" fill="#c5c5c7"/>
<rect x="371.20" y="89.72" width="3.45" height="11.40" fill="#c5c5c7"/>
<rect x="376.62" y="89.72" width="3.45" height="11.40" fill="#c5c5c7"/>
<rect x="382.04" y="89.72" width="3.45" height="11.40" fill="#c5c5c7"/>
<rect x="387.46" y="89.72" width="3.45" height="11.40" fill="#c5c5c7"/>
<rect x="392.88" y="89.72" width="3.45" height="11.40" fill="#c5c5c7"/>
<rect x="398.30" y="89.72" width="3.45" height="11.40" fill="#c5c5c7"/>
<rect x="403.72" y="89.72" width="3.45" height="11.40" fill="#c5c5c7"/>
<rect x="409.14" y="89.72" width="3.45" height="11.40" fill="#c5c5c7"/>
<rect x="414.56" y="89.72" width="3.45" height="11.40" fill="#c5c5c7"/>
<rect x="419.98" y="89.72" width="3.45" height="11.40" fill="#c5c5c7"/>
<rect x="425.40" y="89.72" width="3.45" height="11.40" fill="#c5c5c7"/>
<rect x="430.82" y="89.72" width="3.45" height="11.40" fill="#c5c5c7"/>
<rect x="436.24" y="89.72" width="3.45" height="11.40" fill="#c5c5c7"/>
<rect x="441.66" y="89.72" width="3.45" height="11.40" fill="#3447a0"/>
<rect x="447.08" y="89.72" width="3.45" height="11.40" fill="#3447a0"/>
<rect x="452.50" y="89.72" width="3.45" height="11.40" fill="#c5c5c7"/>
<rect x="452.50" y="93.52" width="3.45" height="3.80" fill="#000"/>
<rect x="457.92" y="89.72" width="3.45" height="11.40" fill="#c5c5c7"/>
<rect x="457.92" y="93.52" width="3.45" height="3.80" fill="#000"/>
<rect x="463.34" y="89.72" width="3.45" height="11.40" fill="#c5c5c7"/>
<rect x="463.34" y="93.52" width="3.45" height="3.80" fill="#000"/>
<rect x="468.76" y="89.72" width="3.45" height="11.40" fill="#c5c5c7"/>
<rect x="468.76" y="93.52" width="3.45" height="3.80" fill="#2c7a3c"/>
<rect x="474.18" y="89.72" width="3.45" height="11.40" fill="#c5c5c7"/>
<rect x="474.18" y="93.52" width="3.45" height="3.80" fill="#2c7a3c"/>
<rect x="479.60" y="89.72" width="3.45" height="11.40" fill="#c5c5c7"/>
<rect x="479.60" y="93.52" width="3.45" height="3.80" fill="#7fca6a"/>
<rect x="485.02" y="89.72" width="3.45" height="11.40" fill="#c5c5c7"/>
<rect x="490.44" y="89.72" width="3.45" height="11.40" fill="#c5c5c7"/>
<rect x="495.86" y="89.72" width="3.45" height="11.40" fill="#c5c5c7"/>
<rect x="501.28" y="89.72" width="3.45" height="11.40" fill="#c5c5c7"/>
<rect x="506.70" y="89.72" width="3.45" height="11.40" fill="#c5c5c7"/>
<rect x="512.12" y="89.72" width="3.45" height="11.40" fill="#c5c5c7"/>
<rect x="517.54" y="89.72" width="3.45" height="11.40" fill="#c5c5c7"/>
<text x="29.5" y="116.00" font-size="11" font-style="italic" fill="#222">SMARCD1</text>
<text x="122.8" y="116.00" font-size="11" text-anchor="end" fill="#222">0.2%</text>
<rect x="127.30" y="106.10" width="3.45" height="11.40" fill="#3447a0"/>
<rect x="132.72" y="106.10" width="3.45" height="11.40" fill="#c5c5c7"/>
<rect x="138.14" y="106.10" width="3.45" height="11.40" fill="#c5c5c7"/>
<rect x="143.56" y="106.10" width="3.45" height="11.40" fill="#c5c5c7"/>
<rect x="148.98" y="106.10" width="3.45" height="11.40" fill="#c5c5c7"/>
<rect x="154.40" y="106.10" width="3.45" height="11.40" fill="#c5c5c7"/>
<rect x="159.82" y="106.10" width="3.45" height="11.40" fill="#c5c5c7"/>
<rect x="165.24" y="106.10" width="3.45" height="11.40" fill="#c5c5c7"/>
<rect x="170.66" y="106.10" width="3.45" height="11.40" fill="#c5c5c7"/>
<rect x="176.08" y="106.10" width="3.45" height="11.40" fill="#c5c5c7"/>
<rect x="181.50" y="106.10" width="3.45" height="11.40" fill="#c5c5c7"/>
<rect x="186.92" y="106.10" width="3.45" height="11.40" fill="#c5c5c7"/>
<rect x="192.34" y="106.10" width="3.45" height="11.40" fill="#c5c5c7"/>
<rect x="197.76" y="106.10" width="3.45" height="11.40" fill="#c5c5c7"/>
<rect x="203.18" y="106.10" width="3.45" height="11.40" fill="#c5c5c7"/>
<rect x="208.60" y="106.10" width="3.45" height="11.40" fill="#c5c5c7"/>
<rect x="214.02" y="106.10" width="3.45" height="11.40" fill="#c5c5c7"/>
<rect x="219.44" y="106.10" width="3.45" height="11.40" fill="#c5c5c7"/>
<rect x="224.86" y="106.10" width="3.45" height="11.40" fill="#c5c5c7"/>
<rect x="230.28" y="106.10" width="3.45" height="11.40" fill="#c5c5c7"/>
<rect x="235.70" y="106.10" width="3.45" height="11.40" fill="#c5c5c7"/>
<rect x="241.12" y="106.10" width="3.45" height="11.40" fill="#c5c5c7"/>
<rect x="246.54" y="106.10" width="3.45" height="11.40" fill="#c5c5c7"/>
<rect x="251.96" y="106.10" width="3.45" height="11.40" fill="#c5c5c7"/>
<rect x="257.38" y="106.10" width="3.45" height="11.40" fill="#c5c5c7"/>
<rect x="262.80" y="106.10" width="3.45" height="11.40" fill="#c5c5c7"/>
<rect x="268.22" y="106.10" width="3.45" height="11.40" fill="#c5c5c7"/>
<rect x="273.64" y="106.10" width="3.45" height="11.40" fill="#c5c5c7"/>
<rect x="279.06" y="106.10" width="3.45" height="11.40" fill="#c5c5c7"/>
<rect x="284.48" y="106.10" width="3.45" height="11.40" fill="#c5c5c7"/>
<rect x="289.90" y="106.10" width="3.45" height="11.40" fill="#c5c5c7"/>
<rect x="295.32" y="106.10" width="3.45" height="11.40" fill="#c5c5c7"/>
<rect x="300.74" y="106.10" width="3.45" height="11.40" fill="#c5c5c7"/>
<rect x="306.16" y="106.10" width="3.45" height="11.40" fill="#c5c5c7"/>
<rect x="311.58" y="106.10" width="3.45" height="11.40" fill="#c5c5c7"/>
<rect x="317.00" y="106.10" width="3.45" height="11.40" fill="#c5c5c7"/>
<rect x="317.00" y="109.90" width="3.45" height="3.80" fill="#2c7a3c"/>
<rect x="322.42" y="106.10" width="3.45" height="11.40" fill="#c5c5c7"/>
<rect x="327.84" y="106.10" width="3.45" height="11.40" fill="#c5c5c7"/>
<rect x="333.26" y="106.10" width="3.45" height="11.40" fill="#c5c5c7"/>
<rect x="338.68" y="106.10" width="3.45" height="11.40" fill="#c5c5c7"/>
<rect x="344.10" y="106.10" width="3.45" height="11.40" fill="#c5c5c7"/>
<rect x="349.52" y="106.10" width="3.45" height="11.40" fill="#c5c5c7"/>
<rect x="354.94" y="106.10" width="3.45" height="11.40" fill="#c5c5c7"/>
<rect x="360.36" y="106.10" width="3.45" height="11.40" fill="#c5c5c7"/>
<rect x="365.78" y="106.10" width="3.45" height="11.40" fill="#c5c5c7"/>
<rect x="371.20" y="106.10" width="3.45" height="11.40" fill="#c5c5c7"/>
<rect x="376.62" y="106.10" width="3.45" height="11.40" fill="#c5c5c7"/>
<rect x="382.04" y="106.10" width="3.45" height="11.40" fill="#c5c5c7"/>
<rect x="387.46" y="106.10" width="3.45" height="11.40" fill="#c5c5c7"/>
<rect x="392.88" y="106.10" width="3.45" height="11.40" fill="#c5c5c7"/>
<rect x="398.30" y="106.10" width="3.45" height="11.40" fill="#c5c5c7"/>
<rect x="403.72" y="106.10" width="3.45" height="11.40" fill="#c5c5c7"/>
<rect x="409.14" y="106.10" width="3.45" height="11.40" fill="#c5c5c7"/>
<rect x="414.56" y="106.10" width="3.45" height="11.40" fill="#c5c5c7"/>
<rect x="419.98" y="106.10" width="3.45" height="11.40" fill="#c5c5c7"/>
<rect x="425.40" y="106.10" width="3.45" height="11.40" fill="#c5c5c7"/>
<rect x="430.82" y="106.10" width="3.45" height="11.40" fill="#c5c5c7"/>
<rect x="436.24" y="106.10" width="3.45" height="11.40" fill="#c5c5c7"/>
<rect x="441.66" y="106.10" width="3.45" height="11.40" fill="#c5c5c7"/>
<rect x="447.08" y="106.10" width="3.45" height="11.40" fill="#c5c5c7"/>
<rect x="452.50" y="106.10" width="3.45" height="11.40" fill="#c5c5c7"/>
<rect x="457.92" y="106.10" width="3.45" height="11.40" fill="#c5c5c7"/>
<rect x="463.34" y="106.10" width="3.45" height="11.40" fill="#c5c5c7"/>
<rect x="468.76" y="106.10" width="3.45" height="11.40" fill="#c5c5c7"/>
<rect x="474.18" y="106.10" width="3.45" height="11.40" fill="#c5c5c7"/>
<rect x="479.60" y="106.10" width="3.45" height="11.40" fill="#c5c5c7"/>
<rect x="485.02" y="106.10" width="3.45" height="11.40" fill="#c5c5c7"/>
<rect x="490.44" y="106.10" width="3.45" height="11.40" fill="#c5c5c7"/>
<rect x="495.86" y="106.10" width="3.45" height="11.40" fill="#c5c5c7"/>
<rect x="501.28" y="106.10" width="3.45" height="11.40" fill="#c5c5c7"/>
<rect x="506.70" y="106.10" width="3.45" height="11.40" fill="#c5c5c7"/>
<rect x="512.12" y="106.10" width="3.45" height="11.40" fill="#c5c5c7"/>
<rect x="517.54" y="106.10" width="3.45" height="11.40" fill="#c5c5c7"/>
<text x="29.5" y="132.38" font-size="11" font-style="italic" fill="#222">SMARCA4</text>
<text x="122.8" y="132.38" font-size="11" text-anchor="end" fill="#222">0.6%</text>
<rect x="127.30" y="122.48" width="3.45" height="11.40" fill="#c5c5c7"/>
<rect x="132.72" y="122.48" width="3.45" height="11.40" fill="#c5c5c7"/>
<rect x="138.14" y="122.48" width="3.45" height="11.40" fill="#c5c5c7"/>
<rect x="143.56" y="122.48" width="3.45" height="11.40" fill="#c5c5c7"/>
<rect x="148.98" y="122.48" width="3.45" height="11.40" fill="#c5c5c7"/>
<rect x="154.40" y="122.48" width="3.45" height="11.40" fill="#c5c5c7"/>
<rect x="159.82" y="122.48" width="3.45" height="11.40" fill="#c5c5c7"/>
<rect x="165.24" y="122.48" width="3.45" height="11.40" fill="#c5c5c7"/>
<rect x="170.66" y="122.48" width="3.45" height="11.40" fill="#c5c5c7"/>
<rect x="176.08" y="122.48" width="3.45" height="11.40" fill="#c5c5c7"/>
<rect x="181.50" y="122.48" width="3.45" height="11.40" fill="#c5c5c7"/>
<rect x="186.92" y="122.48" width="3.45" height="11.40" fill="#c5c5c7"/>
<rect x="192.34" y="122.48" width="3.45" height="11.40" fill="#c5c5c7"/>
<rect x="197.76" y="122.48" width="3.45" height="11.40" fill="#c5c5c7"/>
<rect x="203.18" y="122.48" width="3.45" height="11.40" fill="#c5c5c7"/>
<rect x="208.60" y="122.48" width="3.45" height="11.40" fill="#c5c5c7"/>
<rect x="214.02" y="122.48" width="3.45" height="11.40" fill="#c5c5c7"/>
<rect x="219.44" y="122.48" width="3.45" height="11.40" fill="#c5c5c7"/>
<rect x="224.86" y="122.48" width="3.45" height="11.40" fill="#c5c5c7"/>
<rect x="230.28" y="122.48" width="3.45" height="11.40" fill="#c5c5c7"/>
<rect x="235.70" y="122.48" width="3.45" height="11.40" fill="#c5c5c7"/>
<rect x="241.12" y="122.48" width="3.45" height="11.40" fill="#c5c5c7"/>
<rect x="246.54" y="122.48" width="3.45" height="11.40" fill="#c5c5c7"/>
<rect x="251.96" y="122.48" width="3.45" height="11.40" fill="#c5c5c7"/>
<rect x="257.38" y="122.48" width="3.45" height="11.40" fill="#c5c5c7"/>
<rect x="262.80" y="122.48" width="3.45" height="11.40" fill="#c5c5c7"/>
<rect x="268.22" y="122.48" width="3.45" height="11.40" fill="#c5c5c7"/>
<rect x="273.64" y="122.48" width="3.45" height="11.40" fill="#c5c5c7"/>
<rect x="279.06" y="122.48" width="3.45" height="11.40" fill="#c5c5c7"/>
<rect x="284.48" y="122.48" width="3.45" height="11.40" fill="#c5c5c7"/>
<rect x="289.90" y="122.48" width="3.45" height="11.40" fill="#c5c5c7"/>
<rect x="295.32" y="122.48" width="3.45" height="11.40" fill="#c5c5c7"/>
<rect x="300.74" y="122.48" width="3.45" height="11.40" fill="#c5c5c7"/>
<rect x="306.16" y="122.48" width="3.45" height="11.40" fill="#c5c5c7"/>
<rect x="311.58" y="122.48" width="3.45" height="11.40" fill="#c5c5c7"/>
<rect x="317.00" y="122.48" width="3.45" height="11.40" fill="#c5c5c7"/>
<rect x="322.42" y="122.48" width="3.45" height="11.40" fill="#c5c5c7"/>
<rect x="327.84" y="122.48" width="3.45" height="11.40" fill="#c5c5c7"/>
<rect x="333.26" y="122.48" width="3.45" height="11.40" fill="#c5c5c7"/>
<rect x="338.68" y="122.48" width="3.45" height="11.40" fill="#c5c5c7"/>
<rect x="344.10" y="122.48" width="3.45" height="11.40" fill="#c5c5c7"/>
<rect x="349.52" y="122.48" width="3.45" height="11.40" fill="#c5c5c7"/>
<rect x="354.94" y="122.48" width="3.45" height="11.40" fill="#c5c5c7"/>
<rect x="360.36" y="122.48" width="3.45" height="11.40" fill="#c5c5c7"/>
<rect x="365.78" y="122.48" width="3.45" height="11.40" fill="#c5c5c7"/>
<rect x="371.20" y="122.48" width="3.45" height="11.40" fill="#c5c5c7"/>
<rect x="376.62" y="122.48" width="3.45" height="11.40" fill="#c5c5c7"/>
<rect x="382.04" y="122.48" width="3.45" height="11.40" fill="#c5c5c7"/>
<rect x="387.46" y="122.48" width="3.45" height="11.40" fill="#c5c5c7"/>
<rect x="392.88" y="122.48" width="3.45" height="11.40" fill="#c5c5c7"/>
<rect x="398.30" y="122.48" width="3.45" height="11.40" fill="#c5c5c7"/>
<rect x="403.72" y="122.48" width="3.45" height="11.40" fill="#c5c5c7"/>
<rect x="409.14" y="122.48" width="3.45" height="11.40" fill="#c5c5c7"/>
<rect x="414.56" y="122.48" width="3.45" height="11.40" fill="#c5c5c7"/>
<rect x="419.98" y="122.48" width="3.45" height="11.40" fill="#c5c5c7"/>
<rect x="425.40" y="122.48" width="3.45" height="11.40" fill="#c5c5c7"/>
<rect x="430.82" y="122.48" width="3.45" height="11.40" fill="#c5c5c7"/>
<rect x="436.24" y="122.48" width="3.45" height="11.40" fill="#c5c5c7"/>
<rect x="441.66" y="122.48" width="3.45" height="11.40" fill="#c5c5c7"/>
<rect x="447.08" y="122.48" width="3.45" height="11.40" fill="#c5c5c7"/>
<rect x="452.50" y="122.48" width="3.45" height="11.40" fill="#c5c5c7"/>
<rect x="457.92" y="122.48" width="3.45" height="11.40" fill="#c5c5c7"/>
<rect x="463.34" y="122.48" width="3.45" height="11.40" fill="#c5c5c7"/>
<rect x="468.76" y="122.48" width="3.45" height="11.40" fill="#c5c5c7"/>
<rect x="474.18" y="122.48" width="3.45" height="11.40" fill="#c5c5c7"/>
<rect x="479.60" y="122.48" width="3.45" height="11.40" fill="#c5c5c7"/>
<rect x="485.02" y="122.48" width="3.45" height="11.40" fill="#3447a0"/>
<rect x="490.44" y="122.48" width="3.45" height="11.40" fill="#3447a0"/>
<rect x="495.86" y="122.48" width="3.45" height="11.40" fill="#c5c5c7"/>
<rect x="495.86" y="126.28" width="3.45" height="3.80" fill="#000"/>
<rect x="501.28" y="122.48" width="3.45" height="11.40" fill="#c5c5c7"/>
<rect x="501.28" y="126.28" width="3.45" height="3.80" fill="#2c7a3c"/>
<rect x="506.70" y="122.48" width="3.45" height="11.40" fill="#c5c5c7"/>
<rect x="506.70" y="126.28" width="3.45" height="3.80" fill="#7fca6a"/>
<rect x="512.12" y="122.48" width="3.45" height="11.40" fill="#c5c5c7"/>
<rect x="512.12" y="126.28" width="3.45" height="3.80" fill="#7fca6a"/>
<rect x="517.54" y="122.48" width="3.45" height="11.40" fill="#c5c5c7"/>
<rect x="517.54" y="126.28" width="3.45" height="3.80" fill="#7fca6a"/>
<text x="6" y="145.6" font-size="11" fill="#222">Genetic alteration</text>
<rect x="6" y="146.8" width="85.5" height="0.9" fill="#333"/>
<rect x="17.00" y="150.30" width="5.4" height="16" fill="#c5c5c7"/>
<rect x="17.00" y="155.60" width="5.4" height="5.4" fill="#000"/>
<text x="26.20" y="162.00" font-size="9.65" fill="#222">Truncating mutation (putative driver)</text>
<rect x="201.40" y="150.30" width="5.4" height="16" fill="#c5c5c7"/>
<rect x="201.40" y="155.60" width="5.4" height="5.4" fill="#2c7a3c"/>
<text x="210.60" y="162.00" font-size="9.65" fill="#222">Missense mutation (putative driver)</text>
<rect x="381.40" y="150.30" width="5.4" height="16" fill="#3447a0"/>
<text x="390.70" y="162.00" font-size="9.65" fill="#222">Deep deletion</text>
<rect x="17.00" y="169.00" width="5.4" height="16" fill="#c5c5c7"/>
<rect x="17.00" y="174.30" width="5.4" height="5.4" fill="#a8843c"/>
<text x="26.20" y="181.00" font-size="9.65" fill="#222">Inframe mutation</text>
<rect x="111.00" y="169.00" width="5.4" height="16" fill="#c5c5c7"/>
<rect x="111.00" y="174.30" width="5.4" height="5.4" fill="#7fca6a"/>
<text x="120.20" y="181.00" font-size="9.65" fill="#222">Missense mutation (unknown significance)</text>
<rect x="318.60" y="169.00" width="5.4" height="16" fill="#e2242c"/>
<text x="327.80" y="181.00" font-size="9.65" fill="#222">Amplification</text>
<rect x="394.60" y="169.00" width="5.4" height="16" fill="#c5c5c7"/>
<text x="403.90" y="181.00" font-size="9.65" fill="#222">No alterations</text>
<text x="6" y="198.8" font-size="11" fill="#222">Sample source</text>
<rect x="6" y="200.2" width="73.5" height="0.9" fill="#333"/>
<rect x="7.7" y="203.5" width="4.5" height="15" fill="#ec7420"/>
<text x="15.60" y="215.20" font-size="9.65" fill="#222">MSK thyroid clinical cohort</text>
<rect x="158.8" y="203.5" width="4.4" height="15" fill="#b5539f"/>
<text x="167.40" y="215.20" font-size="9.65" fill="#222">Thyroid cancer TCGA, Cell 2014</text>
<rect x="328" y="203.5" width="4.5" height="15" fill="#f2cf10"/>
<text x="336.40" y="215.20" font-size="9.65" fill="#222">Genomics of PDTC + ATC, JCI 2016</text>
<text x="1.5" y="281" font-size="12" font-weight="bold" fill="#111" style="stroke:#111;stroke-width:0.45px">B</text>
<rect x="59.8" y="279.60" width="1.8" height="146.20" fill="#111"/>
<rect x="59.8" y="424.20" width="146.60" height="1.8" fill="#111"/>
<rect x="56.2" y="424.30" width="4" height="1.4" fill="#111"/>
<text x="55.2" y="428.70" font-size="11" text-anchor="end" fill="#222">0</text>
<rect x="56.2" y="400.27" width="4" height="1.4" fill="#111"/>
<text x="55.2" y="404.67" font-size="11" text-anchor="end" fill="#222">5</text>
<rect x="56.2" y="376.23" width="4" height="1.4" fill="#111"/>
<text x="55.2" y="380.63" font-size="11" text-anchor="end" fill="#222">10</text>
<rect x="56.2" y="352.20" width="4" height="1.4" fill="#111"/>
<text x="55.2" y="356.60" font-size="11" text-anchor="end" fill="#222">15</text>
<rect x="56.2" y="328.17" width="4" height="1.4" fill="#111"/>
<text x="55.2" y="332.57" font-size="11" text-anchor="end" fill="#222">20</text>
<rect x="56.2" y="304.13" width="4" height="1.4" fill="#111"/>
<text x="55.2" y="308.53" font-size="11" text-anchor="end" fill="#222">25</text>
<rect x="56.2" y="280.10" width="4" height="1.4" fill="#111"/>
<text x="55.2" y="284.50" font-size="11" text-anchor="end" fill="#222">30</text>
<rect x="75.80" y="419.99" width="28.80" height="4.81" fill="#2d3c8f"/>
<rect x="89.50" y="425.60" width="1.4" height="3.5" fill="#111"/>
<text x="90.20" y="439.3" font-size="11" text-anchor="middle" fill="#222">PTC</text>
<rect x="118.80" y="364.72" width="29.10" height="60.08" fill="#3cb04a"/>
<rect x="132.65" y="425.60" width="1.4" height="3.5" fill="#111"/>
<text x="133.35" y="439.3" font-size="11" text-anchor="middle" fill="#222">PDTC</text>
<rect x="162.50" y="297.42" width="29.00" height="127.38" fill="#ec2027"/>
<rect x="176.30" y="425.60" width="1.4" height="3.5" fill="#111"/>
<text x="177.00" y="439.3" font-size="11" text-anchor="middle" fill="#222">ATC</text>
<text transform="translate(36.2,352.5) rotate(-90)" font-size="11" text-anchor="middle" fill="#222">% SWI/SNF mutations</text>
<text x="224" y="280.8" font-size="12" font-weight="bold" fill="#111" style="stroke:#111;stroke-width:0.45px">C</text>
<rect x="291.5" y="271" width="1.8" height="148" fill="#111"/>
<rect x="291.5" y="416.9" width="145.5" height="1.7" fill="#111"/>
<rect x="287.6" y="294.00" width="4" height="1.4" fill="#111"/>
<text x="285.6" y="298.60" font-size="11" text-anchor="end" fill="#222">1.00</text>
<rect x="287.6" y="320.70" width="4" height="1.4" fill="#111"/>
<text x="285.6" y="325.30" font-size="11" text-anchor="end" fill="#222">0.75</text>
<rect x="287.6" y="347.40" width="4" height="1.4" fill="#111"/>
<text x="285.6" y="352.00" font-size="11" text-anchor="end" fill="#222">0.50</text>
<rect x="287.6" y="374.10" width="4" height="1.4" fill="#111"/>
<text x="285.6" y="378.70" font-size="11" text-anchor="end" fill="#222">0.25</text>
<rect x="287.6" y="400.80" width="4" height="1.4" fill="#111"/>
<text x="285.6" y="405.40" font-size="11" text-anchor="end" fill="#222">0.00</text>
<text transform="translate(254.5,345) rotate(-90)" font-size="11" text-anchor="middle" fill="#222">Variant allele freq. (corr.)</text>
<line x1="293.4" y1="348" x2="438" y2="348" stroke="#777" stroke-width="0.9" stroke-dasharray="1.1,1.2"/>
<rect x="309.20" y="418.5" width="1.2" height="2" fill="#111"/>
<rect x="345.60" y="418.5" width="1.2" height="2" fill="#111"/>
<rect x="381.00" y="418.5" width="1.2" height="2" fill="#111"/>
<rect x="417.60" y="418.5" width="1.2" height="2" fill="#111"/>
<path d="M300.40,421.2 V428 H358.40 V421.2" fill="none" stroke="#111" stroke-width="1.3"/>
<path d="M372.40,421.2 V428 H430.60 V421.2" fill="none" stroke="#111" stroke-width="1.3"/>
<text x="329.4" y="441.6" font-size="11" text-anchor="middle" fill="#222">SWI/SNF</text>
<text x="401" y="441.6" font-size="11" text-anchor="middle" fill="#222">TERT</text>
<rect x="302" y="283.2" width="50" height="1.5" fill="#111"/>
<rect x="370.2" y="283.2" width="56.8" height="1.5" fill="#111"/>
<text x="327" y="283.2" font-size="12.5" text-anchor="middle" fill="#111" stroke="#111" stroke-width="0.3">*</text>
<text x="398.4" y="283.2" font-size="12.5" text-anchor="middle" fill="#111" stroke="#111" stroke-width="0.3">****</text>
<circle cx="446.1" cy="307" r="3.7" fill="none" stroke="#5560a8" stroke-width="1.1"/>
<text x="453.4" y="310.6" font-size="10" fill="#222">PTC</text>
<path d="M446.1,319.3 L450.3,326.3 L441.9,326.3 Z" fill="none" stroke="#c9554f" stroke-width="1.1"/>
<text x="453.4" y="326" font-size="10" fill="#222">PDTC + ATC</text>
<circle cx="309.5" cy="331.3" r="1.2" fill="#8088a8"/>
<circle cx="308.00" cy="396.30" r="1.35" fill="none" stroke="#4d5aa0" stroke-width="0.85"/>
<circle cx="310.80" cy="398.70" r="1.35" fill="none" stroke="#4d5aa0" stroke-width="0.85"/>
<circle cx="309.80" cy="396.30" r="1.35" fill="none" stroke="#4d5aa0" stroke-width="0.85"/>
<circle cx="310.20" cy="399.50" r="1.35" fill="none" stroke="#4d5aa0" stroke-width="0.85"/>
<path d="M343.39,293.60 l1.50,2.60 h-3.00 z" fill="#d9455c"/>
<path d="M347.90,293.60 l1.50,2.60 h-3.00 z" fill="#d9455c"/>
<path d="M345.81,301.83 l1.50,2.60 h-3.00 z" fill="#d9455c"/>
<path d="M343.39,338.44 l1.50,2.60 h-3.00 z" fill="#d9455c"/>
<path d="M346.61,336.83 l1.50,2.60 h-3.00 z" fill="#d9455c"/>
<path d="M348.23,339.25 l1.50,2.60 h-3.00 z" fill="#d9455c"/>
<path d="M344.19,341.66 l1.50,2.60 h-3.00 z" fill="#d9455c"/>
<path d="M343.39,347.31 l1.50,2.60 h-3.00 z" fill="#d9455c"/>
<path d="M345.32,347.31 l1.50,2.60 h-3.00 z" fill="#d9455c"/>
<path d="M348.23,348.12 l1.50,2.60 h-3.00 z" fill="#d9455c"/>
<path d="M343.39,349.73 l1.50,2.60 h-3.00 z" fill="#d9455c"/>
<path d="M346.61,350.54 l1.50,2.60 h-3.00 z" fill="#d9455c"/>
<path d="M339.35,362.63 l1.50,2.60 h-3.00 z" fill="#d9455c"/>
<path d="M343.39,363.44 l1.50,2.60 h-3.00 z" fill="#d9455c"/>
<path d="M345.81,365.05 l1.50,2.60 h-3.00 z" fill="#d9455c"/>
<path d="M348.23,364.25 l1.50,2.60 h-3.00 z" fill="#d9455c"/>
<path d="M343.39,367.47 l1.50,2.60 h-3.00 z" fill="#d9455c"/>
<path d="M346.61,367.47 l1.50,2.60 h-3.00 z" fill="#d9455c"/>
<path d="M338.55,371.50 l1.50,2.60 h-3.00 z" fill="#d9455c"/>
<path d="M344.19,371.50 l1.50,2.60 h-3.00 z" fill="#d9455c"/>
<path d="M347.42,370.70 l1.50,2.60 h-3.00 z" fill="#d9455c"/>
<path d="M352.26,373.12 l1.50,2.60 h-3.00 z" fill="#d9455c"/>
<path d="M343.39,373.92 l1.50,2.60 h-3.00 z" fill="#d9455c"/>
<path d="M346.61,374.73 l1.50,2.60 h-3.00 z" fill="#d9455c"/>
<path d="M343.39,381.18 l1.50,2.60 h-3.00 z" fill="#d9455c"/>
<path d="M347.42,381.18 l1.50,2.60 h-3.00 z" fill="#d9455c"/>
<path d="M346.29,390.86 l1.50,2.60 h-3.00 z" fill="#d9455c"/>
<path d="M346.29,344.89 l1.50,2.60 h-3.00 z" fill="#d9455c"/>
<path d="M344.19,352.95 l1.50,2.60 h-3.00 z" fill="#d9455c"/>
<path d="M347.42,356.99 l1.50,2.60 h-3.00 z" fill="#d9455c"/>
<circle cx="381.70" cy="336.60" r="1.35" fill="none" stroke="#4d5aa0" stroke-width="0.85"/>
<circle cx="379.90" cy="352.40" r="1.35" fill="none" stroke="#4d5aa0" stroke-width="0.85"/>
<circle cx="384.10" cy="353.40" r="1.35" fill="none" stroke="#4d5aa0" stroke-width="0.85"/>
<circle cx="381.70" cy="357.60" r="1.35" fill="none" stroke="#4d5aa0" stroke-width="0.85"/>
<circle cx="378.50" cy="363.10" r="1.35" fill="none" stroke="#4d5aa0" stroke-width="0.85"/>
<circle cx="385.50" cy="363.10" r="1.35" fill="none" stroke="#4d5aa0" stroke-width="0.85"/>
<circle cx="378.50" cy="367.30" r="1.35" fill="none" stroke="#4d5aa0" stroke-width="0.85"/>
<circle cx="385.50" cy="367.30" r="1.35" fill="none" stroke="#4d5aa0" stroke-width="0.85"/>
<circle cx="374.30" cy="370.60" r="1.35" fill="none" stroke="#4d5aa0" stroke-width="0.85"/>
<circle cx="378.50" cy="370.60" r="1.35" fill="none" stroke="#4d5aa0" stroke-width="0.85"/>
<circle cx="381.70" cy="368.70" r="1.35" fill="none" stroke="#4d5aa0" stroke-width="0.85"/>
<circle cx="378.50" cy="378.00" r="1.35" fill="none" stroke="#4d5aa0" stroke-width="0.85"/>
<circle cx="385.50" cy="376.20" r="1.35" fill="none" stroke="#4d5aa0" stroke-width="0.85"/>
<circle cx="389.70" cy="377.10" r="1.35" fill="none" stroke="#4d5aa0" stroke-width="0.85"/>
<circle cx="385.50" cy="379.00" r="1.35" fill="none" stroke="#4d5aa0" stroke-width="0.85"/>
<circle cx="385.50" cy="381.30" r="1.35" fill="none" stroke="#4d5aa0" stroke-width="0.85"/>
<circle cx="370.60" cy="383.60" r="1.35" fill="none" stroke="#4d5aa0" stroke-width="0.85"/>
<circle cx="374.30" cy="382.20" r="1.35" fill="none" stroke="#4d5aa0" stroke-width="0.85"/>
<circle cx="378.50" cy="383.60" r="1.35" fill="none" stroke="#4d5aa0" stroke-width="0.85"/>
<circle cx="385.50" cy="383.60" r="1.35" fill="none" stroke="#4d5aa0" stroke-width="0.85"/>
<circle cx="389.20" cy="383.40" r="1.35" fill="none" stroke="#4d5aa0" stroke-width="0.85"/>
<circle cx="392.90" cy="382.20" r="1.35" fill="none" stroke="#4d5aa0" stroke-width="0.85"/>
<circle cx="381.70" cy="380.80" r="1.35" fill="none" stroke="#4d5aa0" stroke-width="0.85"/>
<circle cx="379.90" cy="391.00" r="1.35" fill="none" stroke="#4d5aa0" stroke-width="0.85"/>
<circle cx="384.10" cy="392.00" r="1.35" fill="none" stroke="#4d5aa0" stroke-width="0.85"/>
<circle cx="381.70" cy="395.20" r="1.35" fill="none" stroke="#4d5aa0" stroke-width="0.85"/>
<circle cx="381.70" cy="364.00" r="1.35" fill="none" stroke="#4d5aa0" stroke-width="0.85"/>
<circle cx="381.70" cy="372.50" r="1.35" fill="none" stroke="#4d5aa0" stroke-width="0.85"/>
<circle cx="381.70" cy="376.50" r="1.35" fill="none" stroke="#4d5aa0" stroke-width="0.85"/>
<circle cx="381.70" cy="385.00" r="1.35" fill="none" stroke="#4d5aa0" stroke-width="0.85"/>
<circle cx="378.50" cy="374.00" r="1.35" fill="none" stroke="#4d5aa0" stroke-width="0.85"/>
<circle cx="385.50" cy="371.00" r="1.35" fill="none" stroke="#4d5aa0" stroke-width="0.85"/>
<path d="M412.80,293.39 l1.72,2.99 h-3.45 z" fill="#e02a3a"/>
<path d="M415.40,293.39 l1.72,2.99 h-3.45 z" fill="#e02a3a"/>
<path d="M418.00,293.39 l1.72,2.99 h-3.45 z" fill="#e02a3a"/>
<path d="M420.60,293.39 l1.72,2.99 h-3.45 z" fill="#e02a3a"/>
<path d="M423.20,293.39 l1.72,2.99 h-3.45 z" fill="#e02a3a"/>
<path d="M418.20,296.59 l1.72,2.99 h-3.45 z" fill="#e02a3a"/>
<path d="M418.20,301.59 l1.72,2.99 h-3.45 z" fill="#e02a3a"/>
<path d="M416.70,304.99 l1.72,2.99 h-3.45 z" fill="#e02a3a"/>
<path d="M419.70,304.99 l1.72,2.99 h-3.45 z" fill="#e02a3a"/>
<path d="M416.20,307.09 l1.72,2.99 h-3.45 z" fill="#e02a3a"/>
<path d="M420.20,307.09 l1.72,2.99 h-3.45 z" fill="#e02a3a"/>
<path d="M415.70,309.89 l1.72,2.99 h-3.45 z" fill="#e02a3a"/>
<path d="M418.20,309.89 l1.72,2.99 h-3.45 z" fill="#e02a3a"/>
<path d="M420.70,309.89 l1.72,2.99 h-3.45 z" fill="#e02a3a"/>
<path d="M415.20,314.19 l1.72,2.99 h-3.45 z" fill="#e02a3a"/>
<path d="M417.70,314.19 l1.72,2.99 h-3.45 z" fill="#e02a3a"/>
<path d="M420.50,314.19 l1.72,2.99 h-3.45 z" fill="#e02a3a"/>
<path d="M415.60,316.79 l1.72,2.99 h-3.45 z" fill="#e02a3a"/>
<path d="M420.80,316.79 l1.72,2.99 h-3.45 z" fill="#e02a3a"/>
<path d="M415.16,320.98 l1.72,2.99 h-3.45 z" fill="#e02a3a"/>
<path d="M417.09,321.28 l1.72,2.99 h-3.45 z" fill="#e02a3a"/>
<path d="M419.03,320.93 l1.72,2.99 h-3.45 z" fill="#e02a3a"/>
<path d="M420.96,321.21 l1.72,2.99 h-3.45 z" fill="#e02a3a"/>
<path d="M415.19,322.62 l1.72,2.99 h-3.45 z" fill="#e02a3a"/>
<path d="M417.13,322.89 l1.72,2.99 h-3.45 z" fill="#e02a3a"/>
<path d="M419.06,322.61 l1.72,2.99 h-3.45 z" fill="#e02a3a"/>
<path d="M420.99,322.85 l1.72,2.99 h-3.45 z" fill="#e02a3a"/>
<path d="M414.96,324.34 l1.72,2.99 h-3.45 z" fill="#e02a3a"/>
<path d="M416.89,324.54 l1.72,2.99 h-3.45 z" fill="#e02a3a"/>
<path d="M418.82,324.79 l1.72,2.99 h-3.45 z" fill="#e02a3a"/>
<path d="M420.76,324.36 l1.72,2.99 h-3.45 z" fill="#e02a3a"/>
<path d="M415.08,326.37 l1.72,2.99 h-3.45 z" fill="#e02a3a"/>
<path d="M417.01,326.56 l1.72,2.99 h-3.45 z" fill="#e02a3a"/>
<path d="M418.95,326.34 l1.72,2.99 h-3.45 z" fill="#e02a3a"/>
<path d="M420.88,326.23 l1.72,2.99 h-3.45 z" fill="#e02a3a"/>
<path d="M415.68,327.72 l1.72,2.99 h-3.45 z" fill="#e02a3a"/>
<path d="M417.61,328.21 l1.72,2.99 h-3.45 z" fill="#e02a3a"/>
<path d="M419.55,327.86 l1.72,2.99 h-3.45 z" fill="#e02a3a"/>
<path d="M421.48,327.78 l1.72,2.99 h-3.45 z" fill="#e02a3a"/>
<path d="M414.99,329.58 l1.72,2.99 h-3.45 z" fill="#e02a3a"/>
<path d="M416.93,329.88 l1.72,2.99 h-3.45 z" fill="#e02a3a"/>
<path d="M418.86,329.50 l1.72,2.99 h-3.45 z" fill="#e02a3a"/>
<path d="M420.79,329.74 l1.72,2.99 h-3.45 z" fill="#e02a3a"/>
<path d="M415.41,331.31 l1.72,2.99 h-3.45 z" fill="#e02a3a"/>
<path d="M417.34,331.42 l1.72,2.99 h-3.45 z" fill="#e02a3a"/>
<path d="M419.28,331.13 l1.72,2.99 h-3.45 z" fill="#e02a3a"/>
<path d="M421.21,331.13 l1.72,2.99 h-3.45 z" fill="#e02a3a"/>
<path d="M415.06,333.20 l1.72,2.99 h-3.45 z" fill="#e02a3a"/>
<path d="M417.00,333.05 l1.72,2.99 h-3.45 z" fill="#e02a3a"/>
<path d="M418.93,332.98 l1.72,2.99 h-3.45 z" fill="#e02a3a"/>
<path d="M420.86,333.14 l1.72,2.99 h-3.45 z" fill="#e02a3a"/>
<path d="M415.26,334.67 l1.72,2.99 h-3.45 z" fill="#e02a3a"/>
<path d="M417.20,334.97 l1.72,2.99 h-3.45 z" fill="#e02a3a"/>
<path d="M419.13,334.91 l1.72,2.99 h-3.45 z" fill="#e02a3a"/>
<path d="M421.06,334.64 l1.72,2.99 h-3.45 z" fill="#e02a3a"/>
<path d="M415.36,336.51 l1.72,2.99 h-3.45 z" fill="#e02a3a"/>
<path d="M417.29,336.72 l1.72,2.99 h-3.45 z" fill="#e02a3a"/>
<path d="M419.23,336.63 l1.72,2.99 h-3.45 z" fill="#e02a3a"/>
<path d="M421.16,336.36 l1.72,2.99 h-3.45 z" fill="#e02a3a"/>
<path d="M414.08,337.96 l1.72,2.99 h-3.45 z" fill="#e02a3a"/>
<path d="M416.33,338.14 l1.72,2.99 h-3.45 z" fill="#e02a3a"/>
<path d="M418.58,338.34 l1.72,2.99 h-3.45 z" fill="#e02a3a"/>
<path d="M420.83,337.98 l1.72,2.99 h-3.45 z" fill="#e02a3a"/>
<path d="M423.08,338.18 l1.72,2.99 h-3.45 z" fill="#e02a3a"/>
<path d="M413.33,339.99 l1.72,2.99 h-3.45 z" fill="#e02a3a"/>
<path d="M415.58,340.05 l1.72,2.99 h-3.45 z" fill="#e02a3a"/>
<path d="M417.83,339.93 l1.72,2.99 h-3.45 z" fill="#e02a3a"/>
<path d="M420.08,340.12 l1.72,2.99 h-3.45 z" fill="#e02a3a"/>
<path d="M422.33,339.78 l1.72,2.99 h-3.45 z" fill="#e02a3a"/>
<path d="M413.86,341.65 l1.72,2.99 h-3.45 z" fill="#e02a3a"/>
<path d="M416.11,341.64 l1.72,2.99 h-3.45 z" fill="#e02a3a"/>
<path d="M418.36,341.56 l1.72,2.99 h-3.45 z" fill="#e02a3a"/>
<path d="M420.61,341.79 l1.72,2.99 h-3.45 z" fill="#e02a3a"/>
<path d="M422.86,341.86 l1.72,2.99 h-3.45 z" fill="#e02a3a"/>
<path d="M409.85,343.39 l1.72,2.99 h-3.45 z" fill="#e02a3a"/>
<path d="M412.23,343.03 l1.72,2.99 h-3.45 z" fill="#e02a3a"/>
<path d="M414.61,343.41 l1.72,2.99 h-3.45 z" fill="#e02a3a"/>
<path d="M416.99,343.38 l1.72,2.99 h-3.45 z" fill="#e02a3a"/>
<path d="M419.37,343.59 l1.72,2.99 h-3.45 z" fill="#e02a3a"/>
<path d="M421.75,343.48 l1.72,2.99 h-3.45 z" fill="#e02a3a"/>
<path d="M424.13,343.16 l1.72,2.99 h-3.45 z" fill="#e02a3a"/>
<path d="M426.51,343.22 l1.72,2.99 h-3.45 z" fill="#e02a3a"/>
<path d="M408.13,344.70 l1.72,2.99 h-3.45 z" fill="#e02a3a"/>
<path d="M410.68,344.97 l1.72,2.99 h-3.45 z" fill="#e02a3a"/>
<path d="M413.23,344.79 l1.72,2.99 h-3.45 z" fill="#e02a3a"/>
<path d="M415.78,344.76 l1.72,2.99 h-3.45 z" fill="#e02a3a"/>
<path d="M418.33,344.73 l1.72,2.99 h-3.45 z" fill="#e02a3a"/>
<path d="M420.88,345.15 l1.72,2.99 h-3.45 z" fill="#e02a3a"/>
<path d="M423.43,344.77 l1.72,2.99 h-3.45 z" fill="#e02a3a"/>
<path d="M425.98,344.84 l1.72,2.99 h-3.45 z" fill="#e02a3a"/>
<path d="M428.53,344.92 l1.72,2.99 h-3.45 z" fill="#e02a3a"/>
<path d="M407.97,346.44 l1.72,2.99 h-3.45 z" fill="#e02a3a"/>
<path d="M410.31,346.66 l1.72,2.99 h-3.45 z" fill="#e02a3a"/>
<path d="M412.65,346.72 l1.72,2.99 h-3.45 z" fill="#e02a3a"/>
<path d="M414.99,346.92 l1.72,2.99 h-3.45 z" fill="#e02a3a"/>
<path d="M417.33,346.88 l1.72,2.99 h-3.45 z" fill="#e02a3a"/>
<path d="M419.67,346.91 l1.72,2.99 h-3.45 z" fill="#e02a3a"/>
<path d="M422.01,346.56 l1.72,2.99 h-3.45 z" fill="#e02a3a"/>
<path d="M424.35,346.64 l1.72,2.99 h-3.45 z" fill="#e02a3a"/>
<path d="M426.69,346.61 l1.72,2.99 h-3.45 z" fill="#e02a3a"/>
<path d="M429.03,346.92 l1.72,2.99 h-3.45 z" fill="#e02a3a"/>
<path d="M409.91,348.18 l1.72,2.99 h-3.45 z" fill="#e02a3a"/>
<path d="M412.38,348.20 l1.72,2.99 h-3.45 z" fill="#e02a3a"/>
<path d="M414.85,348.23 l1.72,2.99 h-3.45 z" fill="#e02a3a"/>
<path d="M417.33,348.23 l1.72,2.99 h-3.45 z" fill="#e02a3a"/>
<path d="M419.80,348.38 l1.72,2.99 h-3.45 z" fill="#e02a3a"/>
<path d="M422.28,348.44 l1.72,2.99 h-3.45 z" fill="#e02a3a"/>
<path d="M424.75,348.25 l1.72,2.99 h-3.45 z" fill="#e02a3a"/>
<path d="M427.23,348.09 l1.72,2.99 h-3.45 z" fill="#e02a3a"/>
<path d="M412.24,350.01 l1.72,2.99 h-3.45 z" fill="#e02a3a"/>
<path d="M414.60,350.13 l1.72,2.99 h-3.45 z" fill="#e02a3a"/>
<path d="M416.96,350.36 l1.72,2.99 h-3.45 z" fill="#e02a3a"/>
<path d="M419.32,350.20 l1.72,2.99 h-3.45 z" fill="#e02a3a"/>
<path d="M421.68,350.10 l1.72,2.99 h-3.45 z" fill="#e02a3a"/>
<path d="M424.04,350.16 l1.72,2.99 h-3.45 z" fill="#e02a3a"/>
<path d="M412.44,351.52 l1.72,2.99 h-3.45 z" fill="#e02a3a"/>
<path d="M414.80,352.03 l1.72,2.99 h-3.45 z" fill="#e02a3a"/>
<path d="M417.16,351.96 l1.72,2.99 h-3.45 z" fill="#e02a3a"/>
<path d="M419.52,352.01 l1.72,2.99 h-3.45 z" fill="#e02a3a"/>
<path d="M421.88,351.97 l1.72,2.99 h-3.45 z" fill="#e02a3a"/>
<path d="M424.24,351.73 l1.72,2.99 h-3.45 z" fill="#e02a3a"/>
<path d="M412.22,353.25 l1.72,2.99 h-3.45 z" fill="#e02a3a"/>
<path d="M414.58,353.57 l1.72,2.99 h-3.45 z" fill="#e02a3a"/>
<path d="M416.94,353.23 l1.72,2.99 h-3.45 z" fill="#e02a3a"/>
<path d="M419.30,353.23 l1.72,2.99 h-3.45 z" fill="#e02a3a"/>
<path d="M421.66,353.32 l1.72,2.99 h-3.45 z" fill="#e02a3a"/>
<path d="M424.02,353.29 l1.72,2.99 h-3.45 z" fill="#e02a3a"/>
<path d="M412.17,354.92 l1.72,2.99 h-3.45 z" fill="#e02a3a"/>
<path d="M414.53,354.89 l1.72,2.99 h-3.45 z" fill="#e02a3a"/>
<path d="M416.89,354.98 l1.72,2.99 h-3.45 z" fill="#e02a3a"/>
<path d="M419.25,354.95 l1.72,2.99 h-3.45 z" fill="#e02a3a"/>
<path d="M421.61,355.11 l1.72,2.99 h-3.45 z" fill="#e02a3a"/>
<path d="M423.97,354.91 l1.72,2.99 h-3.45 z" fill="#e02a3a"/>
<path d="M412.60,356.96 l1.72,2.99 h-3.45 z" fill="#e02a3a"/>
<path d="M414.96,356.68 l1.72,2.99 h-3.45 z" fill="#e02a3a"/>
<path d="M417.32,356.74 l1.72,2.99 h-3.45 z" fill="#e02a3a"/>
<path d="M419.68,356.80 l1.72,2.99 h-3.45 z" fill="#e02a3a"/>
<path d="M422.04,356.81 l1.72,2.99 h-3.45 z" fill="#e02a3a"/>
<path d="M424.40,356.66 l1.72,2.99 h-3.45 z" fill="#e02a3a"/>
<path d="M412.58,358.89 l1.72,2.99 h-3.45 z" fill="#e02a3a"/>
<path d="M414.94,358.57 l1.72,2.99 h-3.45 z" fill="#e02a3a"/>
<path d="M417.30,358.58 l1.72,2.99 h-3.45 z" fill="#e02a3a"/>
<path d="M419.66,358.34 l1.72,2.99 h-3.45 z" fill="#e02a3a"/>
<path d="M422.02,358.35 l1.72,2.99 h-3.45 z" fill="#e02a3a"/>
<path d="M424.38,358.50 l1.72,2.99 h-3.45 z" fill="#e02a3a"/>
<path d="M412.11,360.49 l1.72,2.99 h-3.45 z" fill="#e02a3a"/>
<path d="M414.47,360.09 l1.72,2.99 h-3.45 z" fill="#e02a3a"/>
<path d="M416.83,360.00 l1.72,2.99 h-3.45 z" fill="#e02a3a"/>
<path d="M419.19,360.56 l1.72,2.99 h-3.45 z" fill="#e02a3a"/>
<path d="M421.55,360.31 l1.72,2.99 h-3.45 z" fill="#e02a3a"/>
<path d="M423.91,360.08 l1.72,2.99 h-3.45 z" fill="#e02a3a"/>
<path d="M416.13,361.71 l1.72,2.99 h-3.45 z" fill="#e02a3a"/>
<path d="M418.23,362.01 l1.72,2.99 h-3.45 z" fill="#e02a3a"/>
<path d="M420.33,362.28 l1.72,2.99 h-3.45 z" fill="#e02a3a"/>
<path d="M416.39,363.81 l1.72,2.99 h-3.45 z" fill="#e02a3a"/>
<path d="M418.49,363.55 l1.72,2.99 h-3.45 z" fill="#e02a3a"/>
<path d="M420.59,363.61 l1.72,2.99 h-3.45 z" fill="#e02a3a"/>
<path d="M415.83,365.55 l1.72,2.99 h-3.45 z" fill="#e02a3a"/>
<path d="M417.93,365.41 l1.72,2.99 h-3.45 z" fill="#e02a3a"/>
<path d="M420.03,365.56 l1.72,2.99 h-3.45 z" fill="#e02a3a"/>
<path d="M415.96,366.92 l1.72,2.99 h-3.45 z" fill="#e02a3a"/>
<path d="M418.06,367.28 l1.72,2.99 h-3.45 z" fill="#e02a3a"/>
<path d="M420.16,367.38 l1.72,2.99 h-3.45 z" fill="#e02a3a"/>
<path d="M416.38,368.97 l1.72,2.99 h-3.45 z" fill="#e02a3a"/>
<path d="M418.48,368.98 l1.72,2.99 h-3.45 z" fill="#e02a3a"/>
<path d="M420.58,368.93 l1.72,2.99 h-3.45 z" fill="#e02a3a"/>
<path d="M415.88,370.50 l1.72,2.99 h-3.45 z" fill="#e02a3a"/>
<path d="M417.98,370.40 l1.72,2.99 h-3.45 z" fill="#e02a3a"/>
<path d="M420.08,370.21 l1.72,2.99 h-3.45 z" fill="#e02a3a"/>
<path d="M418.20,379.69 l1.72,2.99 h-3.45 z" fill="#e02a3a"/>
<path d="M418.20,383.19 l1.72,2.99 h-3.45 z" fill="#e02a3a"/>
<path d="M418.20,390.79 l1.72,2.99 h-3.45 z" fill="#e02a3a"/>
<rect x="309.23" y="354.40" width="1.15" height="59.60" fill="#1a1a1a"/>
<rect x="303.95" y="353.82" width="11.70" height="1.15" fill="#1a1a1a"/>
<rect x="303.95" y="413.43" width="11.70" height="1.15" fill="#1a1a1a"/>
<rect x="297.95" y="383.32" width="23.70" height="1.15" fill="#1a1a1a"/>
<rect x="345.43" y="329.00" width="1.15" height="50.70" fill="#1a1a1a"/>
<rect x="340.20" y="328.43" width="11.60" height="1.15" fill="#1a1a1a"/>
<rect x="340.20" y="379.12" width="11.60" height="1.15" fill="#1a1a1a"/>
<rect x="334.30" y="354.12" width="23.40" height="1.15" fill="#1a1a1a"/>
<rect x="381.15" y="360.80" width="1.30" height="25.60" fill="#2a3478"/>
<rect x="376.00" y="360.15" width="11.60" height="1.30" fill="#2a3478"/>
<rect x="376.00" y="385.75" width="11.60" height="1.30" fill="#2a3478"/>
<rect x="369.95" y="372.75" width="23.70" height="1.30" fill="#2a3478"/>
<rect x="417.45" y="322.00" width="1.50" height="40.50" fill="#111"/>
<rect x="412.30" y="321.25" width="11.80" height="1.50" fill="#111"/>
<rect x="412.30" y="361.75" width="11.80" height="1.50" fill="#111"/>
<rect x="406.30" y="341.45" width="23.80" height="1.50" fill="#111"/>
<text x="0.6" y="506.2" font-size="12.5" font-weight="bold" fill="#111" style="stroke:#111;stroke-width:0.45px">D</text>
<rect x="174.60" y="548.50" width="26.70" height="16.72" fill="#ea1f27"/>
<rect x="200.40" y="548.50" width="26.70" height="16.72" fill="#dcdcec"/>
<rect x="226.20" y="548.50" width="26.70" height="16.72" fill="#e6c5d4"/>
<rect x="252.00" y="548.50" width="26.70" height="16.72" fill="#dfd5e5"/>
<rect x="277.80" y="548.50" width="26.70" height="16.72" fill="#d9e2f2"/>
<rect x="303.60" y="548.50" width="26.70" height="16.72" fill="#dcdcec"/>
<rect x="329.40" y="548.50" width="25.80" height="16.72" fill="#ef9eac"/>
<rect x="174.60" y="564.32" width="26.70" height="16.72" fill="#ea1f27"/>
<rect x="200.40" y="564.32" width="26.70" height="16.72" fill="#e9bccb"/>
<rect x="226.20" y="564.32" width="26.70" height="16.72" fill="#e9bccb"/>
<rect x="252.00" y="564.32" width="26.70" height="16.72" fill="#e6c5d4"/>
<rect x="277.80" y="564.32" width="26.70" height="16.72" fill="#dcdcec"/>
<rect x="303.60" y="564.32" width="26.70" height="16.72" fill="#d6e9f8"/>
<rect x="329.40" y="564.32" width="25.80" height="16.72" fill="#e2cede"/>
<rect x="174.60" y="580.14" width="26.70" height="16.72" fill="#ea2d34"/>
<rect x="200.40" y="580.14" width="26.70" height="16.72" fill="#e9bccb"/>
<rect x="226.20" y="580.14" width="26.70" height="16.72" fill="#e2cede"/>
<rect x="252.00" y="580.14" width="26.70" height="16.72" fill="#e2cede"/>
<rect x="277.80" y="580.14" width="26.70" height="16.72" fill="#dcdcec"/>
<rect x="303.60" y="580.14" width="26.70" height="16.72" fill="#d6e9f8"/>
<rect x="329.40" y="580.14" width="25.80" height="16.72" fill="#e2cede"/>
<rect x="174.60" y="595.96" width="26.70" height="16.72" fill="#d6e9f8"/>
<rect x="200.40" y="595.96" width="26.70" height="16.72" fill="#d6e9f8"/>
<rect x="226.20" y="595.96" width="26.70" height="16.72" fill="#d6e9f8"/>
<rect x="252.00" y="595.96" width="26.70" height="16.72" fill="#d6e9f8"/>
<rect x="277.80" y="595.96" width="26.70" height="16.72" fill="#ea2d34"/>
<rect x="303.60" y="595.96" width="26.70" height="16.72" fill="#d6e9f8"/>
<rect x="329.40" y="595.96" width="25.80" height="16.72" fill="#d6e9f8"/>
<rect x="174.60" y="611.78" width="26.70" height="16.72" fill="#dcdcec"/>
<rect x="200.40" y="611.78" width="26.70" height="16.72" fill="#d6e9f8"/>
<rect x="226.20" y="611.78" width="26.70" height="16.72" fill="#d6e9f8"/>
<rect x="252.00" y="611.78" width="26.70" height="16.72" fill="#ea1f27"/>
<rect x="277.80" y="611.78" width="26.70" height="16.72" fill="#d6e9f8"/>
<rect x="303.60" y="611.78" width="26.70" height="16.72" fill="#d6e9f8"/>
<rect x="329.40" y="611.78" width="25.80" height="16.72" fill="#d6e9f8"/>
<rect x="174.60" y="627.60" width="26.70" height="16.72" fill="#e9bccb"/>
<rect x="200.40" y="627.60" width="26.70" height="16.72" fill="#dfd5e5"/>
<rect x="226.20" y="627.60" width="26.70" height="16.72" fill="#dfd5e5"/>
<rect x="252.00" y="627.60" width="26.70" height="16.72" fill="#dcdcec"/>
<rect x="277.80" y="627.60" width="26.70" height="16.72" fill="#d6e9f8"/>
<rect x="303.60" y="627.60" width="26.70" height="16.72" fill="#d6e9f8"/>
<rect x="329.40" y="627.60" width="25.80" height="16.72" fill="#dfd5e5"/>
<rect x="174.60" y="643.42" width="26.70" height="16.72" fill="#eeaab8"/>
<rect x="200.40" y="643.42" width="26.70" height="16.72" fill="#dcdcec"/>
<rect x="226.20" y="643.42" width="26.70" height="16.72" fill="#ecb3c2"/>
<rect x="252.00" y="643.42" width="26.70" height="16.72" fill="#d6e9f8"/>
<rect x="277.80" y="643.42" width="26.70" height="16.72" fill="#d6e9f8"/>
<rect x="303.60" y="643.42" width="26.70" height="16.72" fill="#d6e9f8"/>
<rect x="329.40" y="643.42" width="25.80" height="16.72" fill="#ecb3c2"/>
<rect x="174.60" y="659.24" width="26.70" height="16.72" fill="#f093a0"/>
<rect x="200.40" y="659.24" width="26.70" height="16.72" fill="#d6e9f8"/>
<rect x="226.20" y="659.24" width="26.70" height="16.72" fill="#d6e9f8"/>
<rect x="252.00" y="659.24" width="26.70" height="16.72" fill="#ee5b63"/>
<rect x="277.80" y="659.24" width="26.70" height="16.72" fill="#d6e9f8"/>
<rect x="303.60" y="659.24" width="26.70" height="16.72" fill="#d6e9f8"/>
<rect x="329.40" y="659.24" width="25.80" height="16.72" fill="#d6e9f8"/>
<rect x="174.60" y="675.06" width="26.70" height="16.72" fill="#dfd5e5"/>
<rect x="200.40" y="675.06" width="26.70" height="16.72" fill="#dcdcec"/>
<rect x="226.20" y="675.06" width="26.70" height="16.72" fill="#d6e9f8"/>
<rect x="252.00" y="675.06" width="26.70" height="16.72" fill="#d6e9f8"/>
<rect x="277.80" y="675.06" width="26.70" height="16.72" fill="#d6e9f8"/>
<rect x="303.60" y="675.06" width="26.70" height="16.72" fill="#d6e9f8"/>
<rect x="329.40" y="675.06" width="25.80" height="16.72" fill="#dfd5e5"/>
<rect x="174.60" y="690.88" width="26.70" height="16.72" fill="#e6c5d4"/>
<rect x="200.40" y="690.88" width="26.70" height="16.72" fill="#dcdcec"/>
<rect x="226.20" y="690.88" width="26.70" height="16.72" fill="#e6c5d4"/>
<rect x="252.00" y="690.88" width="26.70" height="16.72" fill="#d6e9f8"/>
<rect x="277.80" y="690.88" width="26.70" height="16.72" fill="#d6e9f8"/>
<rect x="303.60" y="690.88" width="26.70" height="16.72" fill="#d7e6f6"/>
<rect x="329.40" y="690.88" width="25.80" height="16.72" fill="#e6c5d4"/>
<rect x="174.60" y="706.70" width="26.70" height="16.72" fill="#d6e9f8"/>
<rect x="200.40" y="706.70" width="26.70" height="16.72" fill="#dcdcec"/>
<rect x="226.20" y="706.70" width="26.70" height="16.72" fill="#dcdcec"/>
<rect x="252.00" y="706.70" width="26.70" height="16.72" fill="#d6e9f8"/>
<rect x="277.80" y="706.70" width="26.70" height="16.72" fill="#d6e9f8"/>
<rect x="303.60" y="706.70" width="26.70" height="16.72" fill="#d6e9f8"/>
<rect x="329.40" y="706.70" width="25.80" height="16.72" fill="#d6e9f8"/>
<rect x="174.60" y="722.52" width="26.70" height="16.72" fill="#dcdcec"/>
<rect x="200.40" y="722.52" width="26.70" height="16.72" fill="#dcdcec"/>
<rect x="226.20" y="722.52" width="26.70" height="16.72" fill="#e2cede"/>
<rect x="252.00" y="722.52" width="26.70" height="16.72" fill="#dfd5e5"/>
<rect x="277.80" y="722.52" width="26.70" height="16.72" fill="#d6e9f8"/>
<rect x="303.60" y="722.52" width="26.70" height="16.72" fill="#d6e9f8"/>
<rect x="329.40" y="722.52" width="25.80" height="16.72" fill="#d6e9f8"/>
<rect x="174.60" y="738.34" width="26.70" height="16.72" fill="#ecb3c2"/>
<rect x="200.40" y="738.34" width="26.70" height="16.72" fill="#dcdcec"/>
<rect x="226.20" y="738.34" width="26.70" height="16.72" fill="#dcdcec"/>
<rect x="252.00" y="738.34" width="26.70" height="16.72" fill="#d6e9f8"/>
<rect x="277.80" y="738.34" width="26.70" height="16.72" fill="#d6e9f8"/>
<rect x="303.60" y="738.34" width="26.70" height="16.72" fill="#d6e9f8"/>
<rect x="329.40" y="738.34" width="25.80" height="16.72" fill="#dfd5e5"/>
<rect x="174.60" y="754.16" width="26.70" height="15.82" fill="#ef7a85"/>
<rect x="200.40" y="754.16" width="26.70" height="15.82" fill="#ecb3c2"/>
<rect x="226.20" y="754.16" width="26.70" height="15.82" fill="#e9bccb"/>
<rect x="252.00" y="754.16" width="26.70" height="15.82" fill="#e6c5d4"/>
<rect x="277.80" y="754.16" width="26.70" height="15.82" fill="#dcdcec"/>
<rect x="303.60" y="754.16" width="26.70" height="15.82" fill="#d6e9f8"/>
<rect x="329.40" y="754.16" width="25.80" height="15.82" fill="#ef7a85"/>
<text x="170.4" y="558.30" font-size="11" text-anchor="end" fill="#222">Uterine endometrioid carcinoma</text>
<text x="170.4" y="574.28" font-size="11" text-anchor="end" fill="#222">Stomach adenocarcinoma</text>
<text x="170.4" y="590.26" font-size="11" text-anchor="end" fill="#222">Bladder cancer</text>
<text x="170.4" y="606.24" font-size="11" text-anchor="end" fill="#222">Rhabdoid cancer</text>
<text x="170.4" y="622.22" font-size="11" text-anchor="end" fill="#222">Renal clear cell carcinoma</text>
<text x="170.4" y="638.20" font-size="11" text-anchor="end" fill="#222">Metastatic colorectal cancer</text>
<text x="170.4" y="654.18" font-size="11" text-anchor="end" fill="#222">Skin cutaneous melanoma</text>
<text x="170.4" y="670.16" font-size="11" text-anchor="end" fill="#222">Intrahepatic cholangiosarcoma</text>
<text x="170.4" y="686.14" font-size="11" text-anchor="end" fill="#222">Breast invasive carcinoma</text>
<text x="170.4" y="702.12" font-size="11" text-anchor="end" fill="#222">Lung adenocarcinoma</text>
<text x="170.4" y="718.10" font-size="11" text-anchor="end" fill="#222">Thyroid: PDTC</text>
<text x="170.4" y="734.08" font-size="11" text-anchor="end" fill="#222">Thyroid: ATC</text>
<text x="170.4" y="750.06" font-size="11" text-anchor="end" fill="#222">MSK-IMPACT</text>
<text x="170.4" y="766.04" font-size="11" text-anchor="end" fill="#222">CCLE</text>
<text transform="translate(189.20,544) rotate(-90)" font-size="10.7" fill="#222">ARID1A</text>
<text transform="translate(215.00,544) rotate(-90)" font-size="10.7" fill="#222">ARID1B</text>
<text transform="translate(240.80,544) rotate(-90)" font-size="10.7" fill="#222">ARID2</text>
<text transform="translate(266.60,544) rotate(-90)" font-size="10.7" fill="#222">PBRM1</text>
<text transform="translate(292.40,544) rotate(-90)" font-size="10.7" fill="#222">SMARCB1</text>
<text transform="translate(318.20,544) rotate(-90)" font-size="10.7" fill="#222">SMARCD1</text>
<text transform="translate(344.00,544) rotate(-90)" font-size="10.7" fill="#222">SMARCA4</text>
<text x="230.4" y="779.6" font-size="11" fill="#222">% Alteration frequency</text>
<rect x="174.50" y="783.8" width="15.8" height="6.2" fill="#d6e9f8"/>
<rect x="189.50" y="783.8" width="15.8" height="6.2" fill="#dbdeee"/>
<rect x="204.50" y="783.8" width="15.8" height="6.2" fill="#e0d3e3"/>
<rect x="219.50" y="783.8" width="15.8" height="6.2" fill="#e5c6d5"/>
<rect x="234.50" y="783.8" width="15.8" height="6.2" fill="#eab7c6"/>
<rect x="249.50" y="783.8" width="15.8" height="6.2" fill="#eea8b6"/>
<rect x="264.50" y="783.8" width="15.8" height="6.2" fill="#f095a2"/>
<rect x="279.50" y="783.8" width="15.8" height="6.2" fill="#ef818c"/>
<rect x="294.50" y="783.8" width="15.8" height="6.2" fill="#ee6972"/>
<rect x="309.50" y="783.8" width="15.8" height="6.2" fill="#ed4f57"/>
<rect x="324.50" y="783.8" width="15.8" height="6.2" fill="#eb363d"/>
<rect x="339.50" y="783.8" width="15" height="6.2" fill="#ea1f27"/>
<text x="168.6" y="802.6" font-size="11" fill="#222">0.0</text>
<text x="255.6" y="802.6" font-size="11" fill="#222">18.5</text>
<text x="342.4" y="802.6" font-size="11" fill="#222">37.0</text>
<path d="M358.20,550.50 H364.70 V625.60 H358.20 M364.70,588.05 H369.60" fill="none" stroke="#111" stroke-width="1.3"/>
<path d="M389.90,627.00 H397.40 V767.70 H389.90 M397.40,697.35 H402.30" fill="none" stroke="#111" stroke-width="1.3"/>
<path d="M355.90,737.00 H359.80 V768.70 H355.90 M359.80,752.85 H363.00" fill="none" stroke="#111" stroke-width="1.3"/>
<text x="376.00" y="578.60" font-size="11" fill="#222">Cancers with</text>
<text x="376.00" y="591.70" font-size="11" fill="#222">dominant SWI/SNF</text>
<text x="376.00" y="604.80" font-size="11" fill="#222">subunit mutation</text>
<text x="408.80" y="688.00" font-size="11" fill="#222">Cancers with diversity</text>
<text x="408.80" y="701.10" font-size="11" fill="#222">in SWI/SNF subunit</text>
<text x="408.80" y="714.20" font-size="11" fill="#222">mutation</text>
<text transform="translate(373.6,753.2) rotate(-90)" font-size="11" text-anchor="middle" fill="#222">Pan-cancer</text>
<text transform="translate(387.6,753.2) rotate(-90)" font-size="11" text-anchor="middle" fill="#222">studies</text>
</svg></body></html>
